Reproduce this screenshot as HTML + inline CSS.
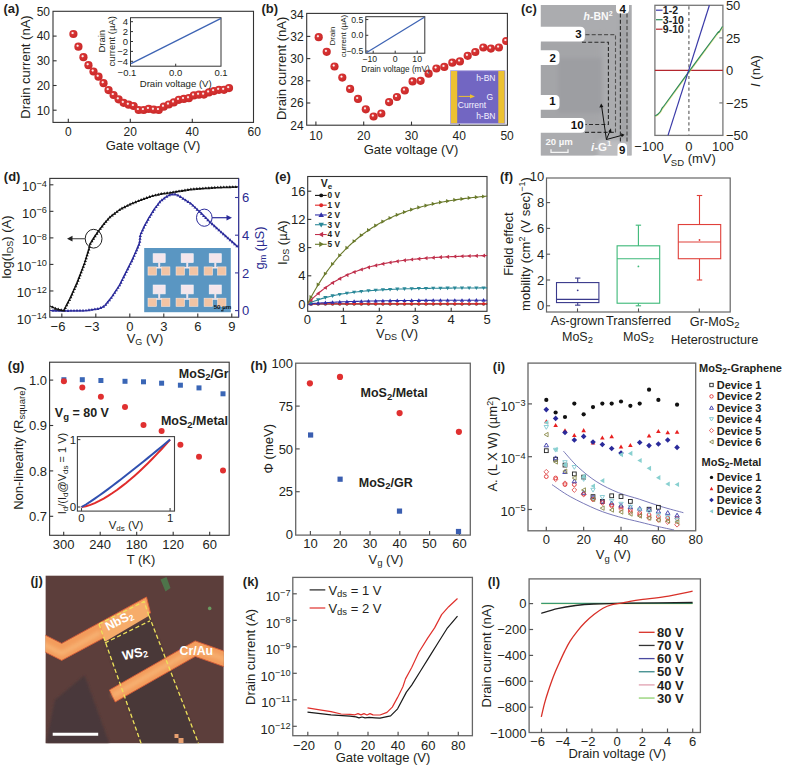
<!DOCTYPE html>
<html><head><meta charset="utf-8"><style>
html,body{margin:0;padding:0;background:#fff;}
svg{display:block;font-family:"Liberation Sans",sans-serif;}
</style></head><body>
<svg width="785" height="767" viewBox="0 0 785 767">
<defs>
<radialGradient id="dg" cx="0.4" cy="0.38" r="0.62">
<stop offset="0" stop-color="#ffffff"/><stop offset="0.14" stop-color="#f4d4d4"/><stop offset="0.3" stop-color="#d83434"/><stop offset="1" stop-color="#c82828"/>
</radialGradient>
<g id="dot"><circle cx="0" cy="0" r="4.1" fill="url(#dg)"/></g>
</defs>
<rect width="785" height="767" fill="#fff"/>
<text x="3.5" y="13" font-size="13" text-anchor="start" fill="#231f20" font-weight="bold">(a)</text>
<rect x="53" y="11.3" width="200.5" height="111.1" fill="none" stroke="#333" stroke-width="1.1"/>
<line x1="53" y1="110.2" x2="56.6" y2="110.2" stroke="#333" stroke-width="1.1"/>
<line x1="53" y1="85.5" x2="56.6" y2="85.5" stroke="#333" stroke-width="1.1"/>
<line x1="53" y1="60.8" x2="56.6" y2="60.8" stroke="#333" stroke-width="1.1"/>
<line x1="53" y1="36.1" x2="56.6" y2="36.1" stroke="#333" stroke-width="1.1"/>
<line x1="68.3" y1="122.4" x2="68.3" y2="118.8" stroke="#333" stroke-width="1.1"/>
<line x1="130.3" y1="122.4" x2="130.3" y2="118.8" stroke="#333" stroke-width="1.1"/>
<line x1="192.3" y1="122.4" x2="192.3" y2="118.8" stroke="#333" stroke-width="1.1"/>
<text x="50" y="114.5" font-size="12" text-anchor="end" fill="#231f20">10</text>
<text x="50" y="89.8" font-size="12" text-anchor="end" fill="#231f20">20</text>
<text x="50" y="65.1" font-size="12" text-anchor="end" fill="#231f20">30</text>
<text x="50" y="40.4" font-size="12" text-anchor="end" fill="#231f20">40</text>
<text x="50" y="15.7" font-size="12" text-anchor="end" fill="#231f20">50</text>
<text x="68.3" y="135.8" font-size="12" text-anchor="middle" fill="#231f20">0</text>
<text x="130.3" y="135.8" font-size="12" text-anchor="middle" fill="#231f20">20</text>
<text x="192.3" y="135.8" font-size="12" text-anchor="middle" fill="#231f20">40</text>
<text x="254.3" y="135.8" font-size="12" text-anchor="middle" fill="#231f20">60</text>
<text x="153" y="149.5" font-size="13" text-anchor="middle" fill="#231f20">Gate voltage (V)</text>
<text x="30" y="67" font-size="13" text-anchor="middle" fill="#231f20" transform="rotate(-90 30 67)">Drain current (nA)</text>
<use href="#dot" x="73.4" y="34"/>
<use href="#dot" x="78.42" y="46.7"/>
<use href="#dot" x="83.44" y="57.2"/>
<use href="#dot" x="88.46" y="65.2"/>
<use href="#dot" x="93.48" y="71.5"/>
<use href="#dot" x="98.5" y="76.7"/>
<use href="#dot" x="103.52" y="83.2"/>
<use href="#dot" x="108.54" y="90.1"/>
<use href="#dot" x="113.56" y="95"/>
<use href="#dot" x="118.58" y="99.3"/>
<use href="#dot" x="123.6" y="102.8"/>
<use href="#dot" x="128.62" y="104.7"/>
<use href="#dot" x="133.64" y="106"/>
<use href="#dot" x="138.66" y="110"/>
<use href="#dot" x="143.68" y="110"/>
<use href="#dot" x="148.7" y="108.9"/>
<use href="#dot" x="153.72" y="109.7"/>
<use href="#dot" x="158.74" y="110"/>
<use href="#dot" x="163.76" y="106.7"/>
<use href="#dot" x="168.78" y="104.5"/>
<use href="#dot" x="173.8" y="102.4"/>
<use href="#dot" x="178.82" y="99.8"/>
<use href="#dot" x="183.84" y="98.9"/>
<use href="#dot" x="188.86" y="98.2"/>
<use href="#dot" x="193.88" y="95.4"/>
<use href="#dot" x="198.9" y="94.7"/>
<use href="#dot" x="203.92" y="94.6"/>
<use href="#dot" x="208.94" y="92.4"/>
<use href="#dot" x="213.96" y="91.1"/>
<use href="#dot" x="218.98" y="89.8"/>
<use href="#dot" x="224" y="89.8"/>
<use href="#dot" x="229.02" y="88.1"/>
<rect x="130.5" y="17.7" width="90.5" height="48.5" fill="none" stroke="#333" stroke-width="1"/>
<line x1="130.5" y1="61.3" x2="133" y2="61.3" stroke="#333" stroke-width="1"/>
<line x1="130.5" y1="51.4" x2="133" y2="51.4" stroke="#333" stroke-width="1"/>
<line x1="130.5" y1="41.5" x2="133" y2="41.5" stroke="#333" stroke-width="1"/>
<line x1="130.5" y1="31.6" x2="133" y2="31.6" stroke="#333" stroke-width="1"/>
<line x1="130.5" y1="21.7" x2="133" y2="21.7" stroke="#333" stroke-width="1"/>
<line x1="175.7" y1="66.2" x2="175.7" y2="63.7" stroke="#333" stroke-width="1"/>
<text x="128" y="64.7" font-size="9.5" text-anchor="end" fill="#231f20">−4</text>
<text x="128" y="54.8" font-size="9.5" text-anchor="end" fill="#231f20">−2</text>
<text x="128" y="44.9" font-size="9.5" text-anchor="end" fill="#231f20">0</text>
<text x="128" y="35" font-size="9.5" text-anchor="end" fill="#231f20">2</text>
<text x="128" y="25.1" font-size="9.5" text-anchor="end" fill="#231f20">4</text>
<text x="127" y="76" font-size="9.5" text-anchor="middle" fill="#231f20">−0.1</text>
<text x="175.7" y="76" font-size="9.5" text-anchor="middle" fill="#231f20">0.0</text>
<text x="221" y="76" font-size="9.5" text-anchor="middle" fill="#231f20">0.1</text>
<text x="175.7" y="87.3" font-size="9.6" text-anchor="middle" fill="#231f20">Drain voltage (V)</text>
<text x="104.6" y="41.2" font-size="9.5" text-anchor="middle" fill="#231f20" transform="rotate(-90 104.6 41.2)">Drain</text>
<text x="115.3" y="41.2" font-size="9.5" text-anchor="middle" fill="#231f20" transform="rotate(-90 115.3 41.2)">current (µA)</text>
<line x1="131" y1="63.7" x2="221" y2="18.4" stroke="#3e64b4" stroke-width="1.3"/>
<text x="261.5" y="13.3" font-size="13" text-anchor="start" fill="#231f20" font-weight="bold">(b)</text>
<rect x="306.7" y="13.4" width="200.7" height="111.8" fill="none" stroke="#333" stroke-width="1.1"/>
<line x1="306.7" y1="103" x2="310.3" y2="103" stroke="#333" stroke-width="1.1"/>
<line x1="306.7" y1="80.8" x2="310.3" y2="80.8" stroke="#333" stroke-width="1.1"/>
<line x1="306.7" y1="58.6" x2="310.3" y2="58.6" stroke="#333" stroke-width="1.1"/>
<line x1="306.7" y1="36.4" x2="310.3" y2="36.4" stroke="#333" stroke-width="1.1"/>
<line x1="315.9" y1="125.2" x2="315.9" y2="121.6" stroke="#333" stroke-width="1.1"/>
<line x1="363.7" y1="125.2" x2="363.7" y2="121.6" stroke="#333" stroke-width="1.1"/>
<line x1="411.5" y1="125.2" x2="411.5" y2="121.6" stroke="#333" stroke-width="1.1"/>
<line x1="459.3" y1="125.2" x2="459.3" y2="121.6" stroke="#333" stroke-width="1.1"/>
<text x="303.7" y="129.5" font-size="12" text-anchor="end" fill="#231f20">24</text>
<text x="303.7" y="107.3" font-size="12" text-anchor="end" fill="#231f20">26</text>
<text x="303.7" y="85.1" font-size="12" text-anchor="end" fill="#231f20">28</text>
<text x="303.7" y="62.9" font-size="12" text-anchor="end" fill="#231f20">30</text>
<text x="303.7" y="40.7" font-size="12" text-anchor="end" fill="#231f20">32</text>
<text x="303.7" y="18.5" font-size="12" text-anchor="end" fill="#231f20">34</text>
<text x="315.9" y="139.5" font-size="12" text-anchor="middle" fill="#231f20">10</text>
<text x="363.7" y="139.5" font-size="12" text-anchor="middle" fill="#231f20">20</text>
<text x="411.5" y="139.5" font-size="12" text-anchor="middle" fill="#231f20">30</text>
<text x="459.3" y="139.5" font-size="12" text-anchor="middle" fill="#231f20">40</text>
<text x="507.1" y="139.5" font-size="12" text-anchor="middle" fill="#231f20">50</text>
<text x="411" y="153.6" font-size="13" text-anchor="middle" fill="#231f20">Gate voltage (V)</text>
<text x="285.6" y="68.4" font-size="13" text-anchor="middle" fill="#231f20" transform="rotate(-90 285.6 68.4)">Drain current (nA)</text>
<rect x="365.8" y="16.7" width="59" height="36.5" fill="#fff" stroke="none" stroke-width="1"/>
<defs><clipPath id="bclip"><rect x="306.7" y="13.4" width="200.7" height="111.8"/></clipPath></defs><g clip-path="url(#bclip)">
<use href="#dot" x="318.7" y="37.2"/>
<use href="#dot" x="326.7" y="51.8"/>
<use href="#dot" x="334.5" y="66.5"/>
<use href="#dot" x="342.3" y="77.6"/>
<use href="#dot" x="350.1" y="88.9"/>
<use href="#dot" x="358" y="98.9"/>
<use href="#dot" x="365.8" y="109.3"/>
<use href="#dot" x="373.6" y="116.5"/>
<use href="#dot" x="381.3" y="113.5"/>
<use href="#dot" x="389.1" y="102.1"/>
<use href="#dot" x="396.9" y="97"/>
<use href="#dot" x="404.8" y="90.5"/>
<use href="#dot" x="412.6" y="81.4"/>
<use href="#dot" x="420.6" y="80.8"/>
<use href="#dot" x="428.6" y="73.7"/>
<use href="#dot" x="436.4" y="68.5"/>
<use href="#dot" x="444.3" y="66.9"/>
<use href="#dot" x="452.3" y="62.7"/>
<use href="#dot" x="459.9" y="61.4"/>
<use href="#dot" x="467.7" y="55.8"/>
<use href="#dot" x="475.3" y="52"/>
<use href="#dot" x="483.3" y="47.5"/>
<use href="#dot" x="490.9" y="48.6"/>
<use href="#dot" x="498.9" y="47.5"/>
<use href="#dot" x="506.2" y="41"/>
</g>
<rect x="365.8" y="16.7" width="59" height="36.5" fill="#fff" stroke="#333" stroke-width="1"/>
<line x1="365.8" y1="51.05" x2="368.3" y2="51.05" stroke="#333" stroke-width="1"/>
<line x1="365.8" y1="35.3" x2="368.3" y2="35.3" stroke="#333" stroke-width="1"/>
<line x1="365.8" y1="19.55" x2="368.3" y2="19.55" stroke="#333" stroke-width="1"/>
<line x1="373.2" y1="53.2" x2="373.2" y2="50.7" stroke="#333" stroke-width="1"/>
<line x1="395.2" y1="53.2" x2="395.2" y2="50.7" stroke="#333" stroke-width="1"/>
<line x1="417.2" y1="53.2" x2="417.2" y2="50.7" stroke="#333" stroke-width="1"/>
<text x="363.3" y="54.15" font-size="8.7" text-anchor="end" fill="#231f20">−0.5</text>
<text x="363.3" y="38.4" font-size="8.7" text-anchor="end" fill="#231f20">0.0</text>
<text x="363.3" y="22.65" font-size="8.7" text-anchor="end" fill="#231f20">0.5</text>
<text x="369.7" y="62" font-size="8.7" text-anchor="middle" fill="#231f20">−10</text>
<text x="395.2" y="62" font-size="8.7" text-anchor="middle" fill="#231f20">0</text>
<text x="417.2" y="62" font-size="8.7" text-anchor="middle" fill="#231f20">10</text>
<text x="395.5" y="71.6" font-size="8.2" text-anchor="middle" fill="#231f20">Drain voltage (mV)</text>
<text x="334.8" y="36" font-size="8" text-anchor="middle" fill="#231f20" transform="rotate(-90 334.8 36)">Drain</text>
<text x="345.6" y="36" font-size="8" text-anchor="middle" fill="#231f20" transform="rotate(-90 345.6 36)">current (µA)</text>
<line x1="366.3" y1="52.7" x2="424.3" y2="17.2" stroke="#3e64b4" stroke-width="1.3"/>
<rect x="450.6" y="70.7" width="54.4" height="52.9" fill="#7266c2" stroke="#b0a8e0" stroke-width="0.9"/>
<rect x="451" y="71" width="6.2" height="52.2" fill="#ecc132" stroke="none" stroke-width="1"/>
<rect x="498.3" y="71" width="6.2" height="52.2" fill="#ecc132" stroke="none" stroke-width="1"/>
<text x="495.5" y="81.3" font-size="8.5" text-anchor="end" fill="#f4f2ff">h-BN</text>
<text x="493" y="99.8" font-size="8.5" text-anchor="end" fill="#f4f2ff">G</text>
<text x="457.8" y="107.6" font-size="8.5" text-anchor="start" fill="#f4f2ff">Current</text>
<text x="495.5" y="118.6" font-size="8.5" text-anchor="end" fill="#f4f2ff">h-BN</text>
<line x1="458.7" y1="96.4" x2="471" y2="96.4" stroke="#ecc132" stroke-width="1"/>
<path d="M470 94.2 L475 96.4 L470 98.6 Z" fill="#ecc132"/>
<text x="521" y="13.3" font-size="13" text-anchor="start" fill="#231f20" font-weight="bold">(c)</text>
<defs><filter id="cblur" x="-5%" y="-5%" width="110%" height="110%"><feGaussianBlur stdDeviation="2.2"/></filter><clipPath id="cclip"><rect x="540.8" y="5.1" width="90.8" height="150.4"/></clipPath></defs>
<g clip-path="url(#cclip)">
<rect x="540.8" y="5.1" width="90.8" height="150.4" fill="#a7a8ab" stroke="none" stroke-width="1"/>
<g filter="url(#cblur)">
<rect x="535.8" y="0.1" width="80" height="32" fill="#abacaf" stroke="none" stroke-width="1"/>
<rect x="535.8" y="42" width="64" height="80" fill="#a4a5a8" stroke="none" stroke-width="1"/>
<rect x="558" y="58" width="44" height="55" fill="#9d9ea2" stroke="none" stroke-width="1"/>
<rect x="603" y="0.1" width="40" height="165" fill="#abacaf" stroke="none" stroke-width="1"/>
<rect x="620" y="13" width="7" height="130" fill="#a3a4a7" stroke="none" stroke-width="1"/>
<rect x="535.8" y="128" width="60" height="35" fill="#abacaf" stroke="none" stroke-width="1"/>
<rect x="598" y="140" width="32" height="18" fill="#bdbec1" stroke="none" stroke-width="1"/>
</g>
</g>
<path d="M539.8 26.8 H580.4 Q584.9 26.8 584.9 31.3 V37.1 Q584.9 41.6 580.4 41.6 H539.8 Z" fill="#fff"/>
<path d="M539.8 50.2 H555 Q559.5 50.2 559.5 54.7 V60.5 Q559.5 65 555 65 H539.8 Z" fill="#fff"/>
<path d="M539.8 95 H555 Q559.5 95 559.5 99.5 V105.3 Q559.5 109.8 555 109.8 H539.8 Z" fill="#fff"/>
<path d="M539.8 118 H580.7 Q585.2 118 585.2 122.5 V128.3 Q585.2 132.8 580.7 132.8 H539.8 Z" fill="#fff"/>
<path d="M616 0 V9.4 Q616 13.6 620 13.6 H625 Q629 13.6 629 9.4 V0 Z" fill="#fff"/>
<path d="M617.5 160 V147 Q617.5 143 621.5 143 H623 Q627 143 627 147 V160 Z" fill="#fff"/>
<path d="M585.5 34.6 L615.5 34.6 L615.5 132.4" stroke="#555" stroke-width="1.1" fill="none" stroke-dasharray="4 2.2"/>
<path d="M582 42.3 L608.4 42.3 L608.4 124.5 L585.5 124.5" stroke="#2a2a2a" stroke-width="1.1" fill="none" stroke-dasharray="4 2.2"/>
<path d="M585 132.4 L615.5 132.4" stroke="#333" stroke-width="1.1" fill="none" stroke-dasharray="4 2.2"/>
<line x1="620.4" y1="13.6" x2="620.4" y2="143" stroke="#2a2a2a" stroke-width="1.1" stroke-dasharray="4 2.2"/>
<line x1="627" y1="13.6" x2="627" y2="143" stroke="#444" stroke-width="1.1" stroke-dasharray="4 2.2"/>
<line x1="606.4" y1="139.5" x2="601.6" y2="106" stroke="#111" stroke-width="1"/>
<path d="M599.3 107.5 L601.2 103.5 L603.3 107 Z" fill="#111"/>
<line x1="606.4" y1="139.5" x2="622" y2="135.3" stroke="#111" stroke-width="1"/>
<path d="M621 133.3 L624.5 134.8 L621.7 137.2 Z" fill="#111"/>
<line x1="606.4" y1="139.5" x2="610.2" y2="130.5" stroke="#111" stroke-width="1"/>
<path d="M608.3 131.4 L611 128.2 L611.5 132.5 Z" fill="#111"/>
<text x="578.5" y="38" font-size="11.5" text-anchor="middle" fill="#111" font-weight="bold">3</text>
<text x="552.6" y="62" font-size="11.5" text-anchor="middle" fill="#111" font-weight="bold">2</text>
<text x="552.4" y="105.2" font-size="11.5" text-anchor="middle" fill="#111" font-weight="bold">1</text>
<text x="577.2" y="128.6" font-size="11.5" text-anchor="middle" fill="#111" font-weight="bold">10</text>
<text x="622.6" y="13" font-size="11.5" text-anchor="middle" fill="#111" font-weight="bold">4</text>
<text x="622.3" y="154.2" font-size="11.5" text-anchor="middle" fill="#111" font-weight="bold">9</text>
<text x="583.6" y="20.4" font-size="10.5" fill="#fafafa" font-weight="bold"><tspan font-style="italic">h</tspan>-BN<tspan font-size="7" dy="-4.5">2</tspan></text>
<text x="591" y="150.6" font-size="11.5" fill="#fafafa" font-weight="bold"><tspan font-style="italic">i</tspan>-G<tspan font-size="8" dy="-5">1</tspan></text>
<text x="559.2" y="144.7" font-size="9.6" text-anchor="middle" fill="#f8f8f8" font-weight="bold">20 µm</text>
<path d="M551 149.3 L551 152.4 L568 152.4 L568 149.3" stroke="#f5f5f5" stroke-width="1.3" fill="none"/>
<rect x="654.9" y="5.3" width="68" height="130.1" fill="none" stroke="#777" stroke-width="1.3"/>
<line x1="722.9" y1="102.9" x2="719.3" y2="102.9" stroke="#777" stroke-width="1.2"/>
<line x1="722.9" y1="37.9" x2="719.3" y2="37.9" stroke="#777" stroke-width="1.2"/>
<line x1="688.9" y1="6.3" x2="688.9" y2="134.4" stroke="#666" stroke-width="1.2" stroke-dasharray="3.2 2.6"/>
<line x1="654.9" y1="70.4" x2="722.9" y2="70.4" stroke="#b4262e" stroke-width="1.2"/>
<path d="M655.5 116.7 C655.92 116.45 657.17 115.87 658 115.2 C658.83 114.53 659.67 113.87 660.5 112.7 C661.33 111.53 662.17 109.45 663 108.2 C663.83 106.95 660.92 111.42 665.5 105.2 C670.08 98.98 682 82.48 690.5 70.9 C699 59.32 711.67 42.07 716.5 35.7 C721.33 29.33 718.42 34.12 719.5 32.7 C720.58 31.28 722.42 28.12 723 27.2" stroke="#e8e070" stroke-width="0.8" fill="none" stroke-linejoin="round"/>
<path d="M655 116 C655.42 115.75 656.67 115.17 657.5 114.5 C658.33 113.83 659.17 113.17 660 112 C660.83 110.83 661.67 108.75 662.5 107.5 C663.33 106.25 660.42 110.72 665 104.5 C669.58 98.28 681.5 81.78 690 70.2 C698.5 58.62 711.17 41.37 716 35 C720.83 28.63 717.92 33.42 719 32 C720.08 30.58 721.92 27.42 722.5 26.5" stroke="#2e8a58" stroke-width="1.2" fill="none" stroke-linejoin="round"/>
<line x1="668" y1="135.4" x2="709.4" y2="5.3" stroke="#3a3aa8" stroke-width="1.2"/>
<text x="725.9" y="10" font-size="13" text-anchor="start" fill="#231f20">50</text>
<text x="725.9" y="42.5" font-size="13" text-anchor="start" fill="#231f20">25</text>
<text x="725.9" y="75" font-size="13" text-anchor="start" fill="#231f20">0</text>
<text x="725.9" y="107.5" font-size="13" text-anchor="start" fill="#231f20">−25</text>
<text x="725.9" y="140" font-size="13" text-anchor="start" fill="#231f20">−50</text>
<text x="649" y="150.5" font-size="13" text-anchor="middle" fill="#231f20">−100</text>
<text x="688.9" y="150.5" font-size="13" text-anchor="middle" fill="#231f20">0</text>
<text x="722.8" y="150.5" font-size="13" text-anchor="middle" fill="#231f20">100</text>
<text x="689" y="163.4" font-size="13" text-anchor="middle" fill="#231f20"><tspan font-style="italic">V</tspan><tspan font-size="9.5" dy="2.2">SD</tspan><tspan dy="-2.2"> (mV)</tspan></text>
<text x="759.6" y="71" font-size="13" text-anchor="middle" fill="#231f20" transform="rotate(-90 759.6 71)"><tspan font-style="italic">I</tspan> (nA)</text>
<line x1="656" y1="10.2" x2="662.5" y2="10.2" stroke="#3a3aa8" stroke-width="1.2"/>
<text x="662.8" y="14.2" font-size="10.5" text-anchor="start" fill="#222" font-weight="bold">1-2</text>
<line x1="656" y1="19.7" x2="662.5" y2="19.7" stroke="#2e8a58" stroke-width="1.2"/>
<text x="662.8" y="23.7" font-size="10.5" text-anchor="start" fill="#222" font-weight="bold">3-10</text>
<line x1="656" y1="29.2" x2="662.5" y2="29.2" stroke="#b4262e" stroke-width="1.2"/>
<text x="662.8" y="33.2" font-size="10.5" text-anchor="start" fill="#222" font-weight="bold">9-10</text>
<text x="3.8" y="181" font-size="13" text-anchor="start" fill="#231f20" font-weight="bold">(d)</text>
<rect x="144.2" y="248" width="86.6" height="64.2" fill="#5a96c2" stroke="none" stroke-width="1"/>
<rect x="153.1" y="253.7" width="12.1" height="8.9" fill="#f4e6ec" stroke="#fbf6f8" stroke-width="0.6"/>
<rect x="158.2" y="262.6" width="2" height="4.6" fill="#f0e4ea" stroke="none" stroke-width="1"/>
<rect x="156" y="266.9" width="6" height="1.6" fill="#f4e8ea" stroke="none" stroke-width="1"/>
<rect x="148" y="266.9" width="8.5" height="8.2" fill="#f2c4a4" stroke="#f8e4da" stroke-width="0.6"/>
<rect x="161.4" y="266.9" width="8.5" height="8.2" fill="#f2c4a4" stroke="#f8e4da" stroke-width="0.6"/>
<rect x="153.1" y="285" width="12.1" height="8.9" fill="#f4e6ec" stroke="#fbf6f8" stroke-width="0.6"/>
<rect x="158.2" y="293.9" width="2" height="4.6" fill="#f0e4ea" stroke="none" stroke-width="1"/>
<rect x="156" y="298.2" width="6" height="1.6" fill="#f4e8ea" stroke="none" stroke-width="1"/>
<rect x="148" y="298.2" width="8.5" height="8.2" fill="#f2c4a4" stroke="#f8e4da" stroke-width="0.6"/>
<rect x="161.4" y="298.2" width="8.5" height="8.2" fill="#f2c4a4" stroke="#f8e4da" stroke-width="0.6"/>
<rect x="181.15" y="253.7" width="12.1" height="8.9" fill="#f4e6ec" stroke="#fbf6f8" stroke-width="0.6"/>
<rect x="186.25" y="262.6" width="2" height="4.6" fill="#f0e4ea" stroke="none" stroke-width="1"/>
<rect x="184.05" y="266.9" width="6" height="1.6" fill="#f4e8ea" stroke="none" stroke-width="1"/>
<rect x="176.05" y="266.9" width="8.5" height="8.2" fill="#f2c4a4" stroke="#f8e4da" stroke-width="0.6"/>
<rect x="189.45" y="266.9" width="8.5" height="8.2" fill="#f2c4a4" stroke="#f8e4da" stroke-width="0.6"/>
<rect x="181.15" y="285" width="12.1" height="8.9" fill="#f4e6ec" stroke="#fbf6f8" stroke-width="0.6"/>
<rect x="186.25" y="293.9" width="2" height="4.6" fill="#f0e4ea" stroke="none" stroke-width="1"/>
<rect x="184.05" y="298.2" width="6" height="1.6" fill="#f4e8ea" stroke="none" stroke-width="1"/>
<rect x="176.05" y="298.2" width="8.5" height="8.2" fill="#f2c4a4" stroke="#f8e4da" stroke-width="0.6"/>
<rect x="189.45" y="298.2" width="8.5" height="8.2" fill="#f2c4a4" stroke="#f8e4da" stroke-width="0.6"/>
<rect x="209.2" y="253.7" width="12.1" height="8.9" fill="#f4e6ec" stroke="#fbf6f8" stroke-width="0.6"/>
<rect x="214.3" y="262.6" width="2" height="4.6" fill="#f0e4ea" stroke="none" stroke-width="1"/>
<rect x="212.1" y="266.9" width="6" height="1.6" fill="#f4e8ea" stroke="none" stroke-width="1"/>
<rect x="204.1" y="266.9" width="8.5" height="8.2" fill="#f2c4a4" stroke="#f8e4da" stroke-width="0.6"/>
<rect x="217.5" y="266.9" width="8.5" height="8.2" fill="#f2c4a4" stroke="#f8e4da" stroke-width="0.6"/>
<rect x="209.2" y="285" width="12.1" height="8.9" fill="#f4e6ec" stroke="#fbf6f8" stroke-width="0.6"/>
<rect x="214.3" y="293.9" width="2" height="4.6" fill="#f0e4ea" stroke="none" stroke-width="1"/>
<rect x="212.1" y="298.2" width="6" height="1.6" fill="#f4e8ea" stroke="none" stroke-width="1"/>
<rect x="204.1" y="298.2" width="8.5" height="8.2" fill="#f2c4a4" stroke="#f8e4da" stroke-width="0.6"/>
<rect x="217.5" y="298.2" width="8.5" height="8.2" fill="#f2c4a4" stroke="#f8e4da" stroke-width="0.6"/>
<text x="222.5" y="308.5" font-size="6.2" text-anchor="middle" fill="#111" font-weight="bold">50 µm</text>
<line x1="221" y1="310.8" x2="223.5" y2="310.8" stroke="#111" stroke-width="1"/>
<rect x="49.8" y="178.4" width="188.8" height="138.8" fill="none" stroke="#333" stroke-width="1.1"/>
<line x1="238.6" y1="178.4" x2="238.6" y2="317.2" stroke="#3a3a9a" stroke-width="1.2"/>
<line x1="49.8" y1="184.8" x2="53.4" y2="184.8" stroke="#333" stroke-width="1.1"/>
<line x1="49.8" y1="211.34" x2="53.4" y2="211.34" stroke="#333" stroke-width="1.1"/>
<line x1="49.8" y1="237.88" x2="53.4" y2="237.88" stroke="#333" stroke-width="1.1"/>
<line x1="49.8" y1="264.42" x2="53.4" y2="264.42" stroke="#333" stroke-width="1.1"/>
<line x1="49.8" y1="290.96" x2="53.4" y2="290.96" stroke="#333" stroke-width="1.1"/>
<line x1="238.6" y1="310.6" x2="235" y2="310.6" stroke="#3a3a9a" stroke-width="1.1"/>
<line x1="238.6" y1="272.9" x2="235" y2="272.9" stroke="#3a3a9a" stroke-width="1.1"/>
<line x1="238.6" y1="235.2" x2="235" y2="235.2" stroke="#3a3a9a" stroke-width="1.1"/>
<line x1="238.6" y1="197.5" x2="235" y2="197.5" stroke="#3a3a9a" stroke-width="1.1"/>
<line x1="61.82" y1="317.2" x2="61.82" y2="313.6" stroke="#333" stroke-width="1.1"/>
<line x1="95.81" y1="317.2" x2="95.81" y2="313.6" stroke="#333" stroke-width="1.1"/>
<line x1="129.8" y1="317.2" x2="129.8" y2="313.6" stroke="#333" stroke-width="1.1"/>
<line x1="163.79" y1="317.2" x2="163.79" y2="313.6" stroke="#333" stroke-width="1.1"/>
<line x1="197.78" y1="317.2" x2="197.78" y2="313.6" stroke="#333" stroke-width="1.1"/>
<line x1="231.77" y1="317.2" x2="231.77" y2="313.6" stroke="#333" stroke-width="1.1"/>
<text x="46.9" y="191.1" font-size="13" text-anchor="end" fill="#231f20">10<tspan font-size="9.2" dy="-4.4">−4</tspan></text>
<text x="46.9" y="217.64" font-size="13" text-anchor="end" fill="#231f20">10<tspan font-size="9.2" dy="-4.4">−6</tspan></text>
<text x="46.9" y="244.18" font-size="13" text-anchor="end" fill="#231f20">10<tspan font-size="9.2" dy="-4.4">−8</tspan></text>
<text x="46.9" y="270.72" font-size="13" text-anchor="end" fill="#231f20">10<tspan font-size="9.2" dy="-4.4">−10</tspan></text>
<text x="46.9" y="297.26" font-size="13" text-anchor="end" fill="#231f20">10<tspan font-size="9.2" dy="-4.4">−12</tspan></text>
<text x="46.9" y="323.8" font-size="13" text-anchor="end" fill="#231f20">10<tspan font-size="9.2" dy="-4.4">−14</tspan></text>
<text x="58.02" y="330.6" font-size="13" text-anchor="middle" fill="#231f20">−6</text>
<text x="92.01" y="330.6" font-size="13" text-anchor="middle" fill="#231f20">−3</text>
<text x="129.8" y="330.6" font-size="13" text-anchor="middle" fill="#231f20">0</text>
<text x="163.79" y="330.6" font-size="13" text-anchor="middle" fill="#231f20">3</text>
<text x="197.78" y="330.6" font-size="13" text-anchor="middle" fill="#231f20">6</text>
<text x="231.77" y="330.6" font-size="13" text-anchor="middle" fill="#231f20">9</text>
<text x="242.1" y="315.2" font-size="13" text-anchor="start" fill="#2a2a90">0</text>
<text x="242.1" y="277.5" font-size="13" text-anchor="start" fill="#2a2a90">2</text>
<text x="242.1" y="239.8" font-size="13" text-anchor="start" fill="#2a2a90">4</text>
<text x="242.1" y="202.1" font-size="13" text-anchor="start" fill="#2a2a90">6</text>
<text x="145" y="342.7" font-size="13" text-anchor="middle" fill="#231f20">V<tspan font-size="9" dy="2">G</tspan><tspan dy="-2"> (V)</tspan></text>
<text x="11.3" y="247" font-size="13" text-anchor="middle" fill="#231f20" transform="rotate(-90 11.3 247)">log(I<tspan font-size="9" dy="2">DS</tspan><tspan dy="-2">) (A)</tspan></text>
<text x="263.5" y="248" font-size="13" text-anchor="middle" fill="#2a2a90" transform="rotate(-90 263.5 248)">g<tspan font-size="9" dy="2">m</tspan><tspan dy="-2"> (µS)</tspan></text>
<path d="M50 310.5 L68.2 310.8 L86.5 310.5 L99.3 308.6 L104.7 305.9 L112 296.8 L119.3 285.8 L126.6 271.2 L132.1 260.3 L135.8 252.1 L139.6 243 L140.4 235 L144.5 226 L149.1 217.7 L154.5 209 L160.3 201.4 L165.5 197.3 L170 194.8 L172 194.3 L174.4 194.1 L178.2 195.4 L191 203.7 L201.1 213.2 L210 222.1 L222.8 233.6 L238 247" stroke="#2a2a9a" stroke-width="1.1" fill="none" stroke-linejoin="round"/>
<path d="M51.4 311.65 L53 308.75 L54.6 311.65 Z M54.4 311.7 L56 308.8 L57.6 311.7 Z M57.4 311.75 L59 308.85 L60.6 311.75 Z M60.4 311.8 L62 308.9 L63.6 311.8 Z M63.4 311.85 L65 308.95 L66.6 311.85 Z M66.4 311.9 L68 309 L69.6 311.9 Z M69.4 311.85 L71 308.95 L72.6 311.85 Z M72.4 311.8 L74 308.9 L75.6 311.8 Z M75.4 311.76 L77 308.86 L78.6 311.76 Z M78.4 311.71 L80 308.81 L81.6 311.71 Z M81.4 311.66 L83 308.76 L84.6 311.66 Z M84.4 311.61 L86 308.71 L87.6 311.61 Z M87.37 311.23 L88.97 308.33 L90.57 311.23 Z M90.34 310.79 L91.94 307.89 L93.54 310.79 Z M93.3 310.35 L94.9 307.45 L96.5 310.35 Z M96.27 309.91 L97.87 307.01 L99.47 309.91 Z M99.09 309 L100.69 306.1 L102.29 309 Z M101.77 307.66 L103.37 304.76 L104.97 307.66 Z M104.05 305.82 L105.65 302.92 L107.25 305.82 Z M105.93 303.48 L107.53 300.58 L109.13 303.48 Z M107.8 301.14 L109.4 298.24 L111 301.14 Z M109.68 298.8 L111.28 295.9 L112.88 298.8 Z M111.42 296.36 L113.02 293.46 L114.62 296.36 Z M113.08 293.86 L114.68 290.96 L116.28 293.86 Z M114.74 291.36 L116.34 288.46 L117.94 291.36 Z M116.4 288.86 L118 285.96 L119.6 288.86 Z M117.99 286.32 L119.59 283.42 L121.19 286.32 Z M119.33 283.64 L120.93 280.74 L122.53 283.64 Z M120.67 280.95 L122.27 278.05 L123.87 280.95 Z M122.02 278.27 L123.62 275.37 L125.22 278.27 Z M123.36 275.59 L124.96 272.69 L126.56 275.59 Z M124.7 272.9 L126.3 270 L127.9 272.9 Z M126.05 270.22 L127.65 267.32 L129.25 270.22 Z M127.4 267.54 L129 264.64 L130.6 267.54 Z M128.75 264.87 L130.35 261.97 L131.95 264.87 Z M130.1 262.19 L131.7 259.29 L133.3 262.19 Z M131.37 259.47 L132.97 256.57 L134.57 259.47 Z M132.6 256.74 L134.2 253.84 L135.8 256.74 Z M133.84 254 L135.44 251.1 L137.04 254 Z M135.02 251.24 L136.62 248.34 L138.22 251.24 Z M136.17 248.47 L137.77 245.57 L139.37 248.47 Z M137.33 245.71 L138.93 242.81 L140.53 245.71 Z M138.13 242.85 L139.73 239.95 L141.33 242.85 Z M138.42 239.86 L140.02 236.96 L141.62 239.86 Z M138.72 236.88 L140.32 233.98 L141.92 236.88 Z M139.72 234.08 L141.32 231.18 L142.92 234.08 Z M140.96 231.35 L142.56 228.45 L144.16 231.35 Z M142.21 228.62 L143.81 225.72 L145.41 228.62 Z M143.54 225.94 L145.14 223.04 L146.74 225.94 Z M145 223.31 L146.6 220.41 L148.2 223.31 Z M146.45 220.69 L148.05 217.79 L149.65 220.69 Z M147.94 218.09 L149.54 215.19 L151.14 218.09 Z M149.53 215.54 L151.13 212.64 L152.73 215.54 Z M151.11 212.99 L152.71 210.09 L154.31 212.99 Z M152.69 210.44 L154.29 207.54 L155.89 210.44 Z M154.48 208.03 L156.08 205.13 L157.68 208.03 Z M156.3 205.65 L157.9 202.75 L159.5 205.65 Z M158.12 203.26 L159.72 200.36 L161.32 203.26 Z M160.3 201.24 L161.9 198.34 L163.5 201.24 Z M162.66 199.38 L164.26 196.48 L165.86 199.38 Z M165.14 197.71 L166.74 194.81 L168.34 197.71 Z M167.76 196.25 L169.36 193.35 L170.96 196.25 Z M170.61 195.38 L172.21 192.48 L173.81 195.38 Z M173.56 195.46 L175.16 192.56 L176.76 195.46 Z M176.4 196.43 L178 193.53 L179.6 196.43 Z M178.94 198.01 L180.54 195.11 L182.14 198.01 Z M181.45 199.65 L183.05 196.75 L184.65 199.65 Z M183.97 201.28 L185.57 198.38 L187.17 201.28 Z M186.49 202.91 L188.09 200.01 L189.69 202.91 Z M189 204.54 L190.6 201.64 L192.2 204.54 Z M191.24 206.53 L192.84 203.63 L194.44 206.53 Z M193.43 208.59 L195.03 205.69 L196.63 208.59 Z M195.61 210.64 L197.21 207.74 L198.81 210.64 Z M197.8 212.7 L199.4 209.8 L201 212.7 Z M199.97 214.77 L201.57 211.87 L203.17 214.77 Z M202.09 216.89 L203.69 213.99 L205.29 216.89 Z M204.21 219.01 L205.81 216.11 L207.41 219.01 Z M206.33 221.13 L207.93 218.23 L209.53 221.13 Z M208.46 223.25 L210.06 220.35 L211.66 223.25 Z M210.69 225.26 L212.29 222.36 L213.89 225.26 Z M212.92 227.26 L214.52 224.36 L216.12 227.26 Z M215.15 229.27 L216.75 226.37 L218.35 229.27 Z M217.38 231.27 L218.98 228.37 L220.58 231.27 Z M219.62 233.28 L221.22 230.38 L222.82 233.28 Z M221.85 235.27 L223.45 232.37 L225.05 235.27 Z M224.1 237.26 L225.7 234.36 L227.3 237.26 Z M226.35 239.24 L227.95 236.34 L229.55 239.24 Z M228.6 241.23 L230.2 238.33 L231.8 241.23 Z M230.85 243.21 L232.45 240.31 L234.05 243.21 Z M233.1 245.19 L234.7 242.29 L236.3 245.19 Z M235.35 247.18 L236.95 244.28 L238.55 247.18 Z" fill="#2a2a9a"/>
<path d="M50 305.9 L55.5 308.6 L63.7 310.8 L70.1 298.6 L77.4 282.2 L84.7 263 L89.2 248.4 L90 244.2 L94.7 236.6 L100.2 228.9 L105.3 222.3 L110.4 216.7 L120.6 209.1 L130.8 204 L141 199.9 L151.2 196.3 L161.4 193.8 L170 192.7 L178.2 191.4 L191 189.3 L203.7 188.4 L216.4 187.5 L229.2 187.1 L238 186.9" stroke="#111" stroke-width="1.1" fill="none" stroke-linejoin="round"/>
<path d="M51.09 308.32 L52.69 305.42 L54.29 308.32 Z M53.79 309.64 L55.39 306.74 L56.99 309.64 Z M56.67 310.44 L58.27 307.54 L59.87 310.44 Z M59.57 311.22 L61.17 308.32 L62.77 311.22 Z M62.28 311.56 L63.88 308.66 L65.48 311.56 Z M63.67 308.9 L65.27 306 L66.87 308.9 Z M65.07 306.25 L66.67 303.35 L68.27 306.25 Z M66.46 303.59 L68.06 300.69 L69.66 303.59 Z M67.85 300.93 L69.45 298.03 L71.05 300.93 Z M69.15 298.23 L70.75 295.33 L72.35 298.23 Z M70.37 295.49 L71.97 292.59 L73.57 295.49 Z M71.59 292.75 L73.19 289.85 L74.79 292.75 Z M72.81 290.01 L74.41 287.11 L76.01 290.01 Z M74.03 287.27 L75.63 284.37 L77.23 287.27 Z M75.25 284.53 L76.85 281.63 L78.45 284.53 Z M76.39 281.75 L77.99 278.85 L79.59 281.75 Z M77.45 278.95 L79.05 276.05 L80.65 278.95 Z M78.52 276.14 L80.12 273.24 L81.72 276.14 Z M79.59 273.34 L81.19 270.44 L82.79 273.34 Z M80.65 270.54 L82.25 267.64 L83.85 270.54 Z M81.72 267.73 L83.32 264.83 L84.92 267.73 Z M82.79 264.93 L84.39 262.03 L85.99 264.93 Z M83.72 262.08 L85.32 259.18 L86.92 262.08 Z M84.61 259.21 L86.21 256.31 L87.81 259.21 Z M85.49 256.35 L87.09 253.45 L88.69 256.35 Z M86.37 253.48 L87.97 250.58 L89.57 253.48 Z M87.26 250.61 L88.86 247.71 L90.46 250.61 Z M87.94 247.7 L89.54 244.8 L91.14 247.7 Z M88.69 244.82 L90.29 241.92 L91.89 244.82 Z M90.27 242.27 L91.87 239.37 L93.47 242.27 Z M91.85 239.72 L93.45 236.82 L95.05 239.72 Z M93.46 237.19 L95.06 234.29 L96.66 237.19 Z M95.21 234.75 L96.81 231.85 L98.41 234.75 Z M96.95 232.31 L98.55 229.41 L100.15 232.31 Z M98.7 229.87 L100.3 226.97 L101.9 229.87 Z M100.53 227.5 L102.13 224.6 L103.73 227.5 Z M102.37 225.12 L103.97 222.22 L105.57 225.12 Z M104.25 222.79 L105.85 219.89 L107.45 222.79 Z M106.27 220.57 L107.87 217.67 L109.47 220.57 Z M108.29 218.36 L109.89 215.46 L111.49 218.36 Z M110.6 216.46 L112.2 213.56 L113.8 216.46 Z M113.01 214.66 L114.61 211.76 L116.21 214.66 Z M115.41 212.87 L117.01 209.97 L118.61 212.87 Z M117.82 211.08 L119.42 208.18 L121.02 211.08 Z M120.37 209.52 L121.97 206.62 L123.57 209.52 Z M123.05 208.18 L124.65 205.28 L126.25 208.18 Z M125.73 206.83 L127.33 203.93 L128.93 206.83 Z M128.42 205.49 L130.02 202.59 L131.62 205.49 Z M131.17 204.31 L132.77 201.41 L134.37 204.31 Z M133.95 203.19 L135.55 200.29 L137.15 203.19 Z M136.74 202.07 L138.34 199.17 L139.94 202.07 Z M139.52 200.96 L141.12 198.06 L142.72 200.96 Z M142.35 199.96 L143.95 197.06 L145.55 199.96 Z M145.18 198.96 L146.78 196.06 L148.38 198.96 Z M148.01 197.96 L149.61 195.06 L151.21 197.96 Z M150.88 197.09 L152.48 194.19 L154.08 197.09 Z M153.79 196.37 L155.39 193.47 L156.99 196.37 Z M156.7 195.66 L158.3 192.76 L159.9 195.66 Z M159.62 194.94 L161.22 192.04 L162.82 194.94 Z M162.59 194.54 L164.19 191.64 L165.79 194.54 Z M165.56 194.16 L167.16 191.26 L168.76 194.16 Z M168.54 193.78 L170.14 190.88 L171.74 193.78 Z M171.5 193.31 L173.1 190.41 L174.7 193.31 Z M174.47 192.84 L176.07 189.94 L177.67 192.84 Z M177.43 192.36 L179.03 189.46 L180.63 192.36 Z M180.39 191.88 L181.99 188.98 L183.59 191.88 Z M183.35 191.39 L184.95 188.49 L186.55 191.39 Z M186.31 190.91 L187.91 188.01 L189.51 190.91 Z M189.27 190.42 L190.87 187.52 L192.47 190.42 Z M192.26 190.2 L193.86 187.3 L195.46 190.2 Z M195.25 189.99 L196.85 187.09 L198.45 189.99 Z M198.25 189.77 L199.85 186.87 L201.45 189.77 Z M201.24 189.56 L202.84 186.66 L204.44 189.56 Z M204.23 189.35 L205.83 186.45 L207.43 189.35 Z M207.22 189.14 L208.82 186.24 L210.42 189.14 Z M210.22 188.92 L211.82 186.02 L213.42 188.92 Z M213.21 188.71 L214.81 185.81 L216.41 188.71 Z M216.2 188.56 L217.8 185.66 L219.4 188.56 Z M219.2 188.46 L220.8 185.56 L222.4 188.46 Z M222.2 188.37 L223.8 185.47 L225.4 188.37 Z M225.2 188.28 L226.8 185.38 L228.4 188.28 Z M228.2 188.19 L229.8 185.29 L231.4 188.19 Z M231.2 188.12 L232.8 185.22 L234.4 188.12 Z M234.2 188.05 L235.8 185.15 L237.4 188.05 Z" fill="#111"/>
<ellipse cx="93.6" cy="238.7" rx="8.4" ry="9.4" fill="none" stroke="#222" stroke-width="1"/>
<line x1="85.2" y1="238.7" x2="70" y2="238.7" stroke="#555" stroke-width="1.2"/>
<path d="M67 238.7 L72.5 235.8 L72.5 241.6 Z" fill="#222"/>
<ellipse cx="204.3" cy="217.7" rx="7.8" ry="8.6" fill="none" stroke="#2a2a9a" stroke-width="1"/>
<line x1="212.1" y1="217.7" x2="229" y2="217.7" stroke="#2a2a9a" stroke-width="1.2"/>
<path d="M232 217.7 L226.5 214.9 L226.5 220.5 Z" fill="#2a2a9a"/>
<text x="275" y="181" font-size="13" text-anchor="start" fill="#231f20" font-weight="bold">(e)</text>
<rect x="307.7" y="176.5" width="179.3" height="134.8" fill="none" stroke="#333" stroke-width="1.1"/>
<line x1="307.7" y1="275.8" x2="311.3" y2="275.8" stroke="#333" stroke-width="1.1"/>
<line x1="307.7" y1="247.6" x2="311.3" y2="247.6" stroke="#333" stroke-width="1.1"/>
<line x1="307.7" y1="219.4" x2="311.3" y2="219.4" stroke="#333" stroke-width="1.1"/>
<line x1="307.7" y1="191.2" x2="311.3" y2="191.2" stroke="#333" stroke-width="1.1"/>
<line x1="343.35" y1="311.3" x2="343.35" y2="307.7" stroke="#333" stroke-width="1.1"/>
<line x1="379.3" y1="311.3" x2="379.3" y2="307.7" stroke="#333" stroke-width="1.1"/>
<line x1="415.25" y1="311.3" x2="415.25" y2="307.7" stroke="#333" stroke-width="1.1"/>
<line x1="451.2" y1="311.3" x2="451.2" y2="307.7" stroke="#333" stroke-width="1.1"/>
<text x="305.4" y="308.6" font-size="13" text-anchor="end" fill="#231f20">0</text>
<text x="305.4" y="280.4" font-size="13" text-anchor="end" fill="#231f20">4</text>
<text x="305.4" y="252.2" font-size="13" text-anchor="end" fill="#231f20">8</text>
<text x="305.4" y="224" font-size="13" text-anchor="end" fill="#231f20">12</text>
<text x="305.4" y="195.8" font-size="13" text-anchor="end" fill="#231f20">16</text>
<text x="307.4" y="323.5" font-size="13" text-anchor="middle" fill="#231f20">0</text>
<text x="343.35" y="323.5" font-size="13" text-anchor="middle" fill="#231f20">1</text>
<text x="379.3" y="323.5" font-size="13" text-anchor="middle" fill="#231f20">2</text>
<text x="415.25" y="323.5" font-size="13" text-anchor="middle" fill="#231f20">3</text>
<text x="451.2" y="323.5" font-size="13" text-anchor="middle" fill="#231f20">4</text>
<text x="487.15" y="323.5" font-size="13" text-anchor="middle" fill="#231f20">5</text>
<text x="397" y="337.7" font-size="13" text-anchor="middle" fill="#231f20">V<tspan font-size="9" dy="2">DS</tspan><tspan dy="-2"> (V)</tspan></text>
<text x="287.3" y="242.6" font-size="13" text-anchor="middle" fill="#231f20" transform="rotate(-90 287.3 242.6)">I<tspan font-size="9" dy="2">DS</tspan><tspan dy="-2"> (µA)</tspan></text>
<path d="M307.4 304 L309.2 304 L311 304 L312.79 304 L314.59 304 L316.39 304 L318.19 304 L319.98 304 L321.78 304 L323.58 304 L325.38 304 L327.17 304 L328.97 304 L330.77 304 L332.56 304 L334.36 304 L336.16 304 L337.96 304 L339.75 304 L341.55 304 L343.35 304 L345.15 304 L346.94 304 L348.74 304 L350.54 304 L352.34 304 L354.13 304 L355.93 304 L357.73 304 L359.53 304 L361.32 304 L363.12 304 L364.92 304 L366.72 304 L368.51 304 L370.31 304 L372.11 304 L373.91 304 L375.7 304 L377.5 304 L379.3 304 L381.1 304 L382.89 304 L384.69 304 L386.49 304 L388.29 304 L390.08 304 L391.88 304 L393.68 304 L395.48 304 L397.27 304 L399.07 304 L400.87 304 L402.67 304 L404.46 304 L406.26 304 L408.06 304 L409.86 304 L411.65 304 L413.45 304 L415.25 304 L417.05 304 L418.84 304 L420.64 304 L422.44 304 L424.24 304 L426.03 304 L427.83 304 L429.63 304 L431.43 304 L433.23 304 L435.02 304 L436.82 304 L438.62 304 L440.41 304 L442.21 304 L444.01 304 L445.81 304 L447.61 304 L449.4 304 L451.2 304 L453 304 L454.79 304 L456.59 304 L458.39 304 L460.19 304 L461.99 304 L463.78 304 L465.58 304 L467.38 304 L469.17 304 L470.97 304 L472.77 304 L474.57 304 L476.37 304 L478.16 304 L479.96 304 L481.76 304 L483.56 304 L485.35 304 L487.15 304" stroke="#111" stroke-width="1.1" fill="none"/>
<circle cx="311" cy="304" r="1.5" fill="#111" stroke="none" stroke-width="1"/>
<circle cx="318.19" cy="304" r="1.5" fill="#111" stroke="none" stroke-width="1"/>
<circle cx="325.38" cy="304" r="1.5" fill="#111" stroke="none" stroke-width="1"/>
<circle cx="332.56" cy="304" r="1.5" fill="#111" stroke="none" stroke-width="1"/>
<circle cx="339.75" cy="304" r="1.5" fill="#111" stroke="none" stroke-width="1"/>
<circle cx="346.94" cy="304" r="1.5" fill="#111" stroke="none" stroke-width="1"/>
<circle cx="354.13" cy="304" r="1.5" fill="#111" stroke="none" stroke-width="1"/>
<circle cx="361.32" cy="304" r="1.5" fill="#111" stroke="none" stroke-width="1"/>
<circle cx="368.51" cy="304" r="1.5" fill="#111" stroke="none" stroke-width="1"/>
<circle cx="375.7" cy="304" r="1.5" fill="#111" stroke="none" stroke-width="1"/>
<circle cx="382.89" cy="304" r="1.5" fill="#111" stroke="none" stroke-width="1"/>
<circle cx="390.08" cy="304" r="1.5" fill="#111" stroke="none" stroke-width="1"/>
<circle cx="397.27" cy="304" r="1.5" fill="#111" stroke="none" stroke-width="1"/>
<circle cx="404.46" cy="304" r="1.5" fill="#111" stroke="none" stroke-width="1"/>
<circle cx="411.65" cy="304" r="1.5" fill="#111" stroke="none" stroke-width="1"/>
<circle cx="418.84" cy="304" r="1.5" fill="#111" stroke="none" stroke-width="1"/>
<circle cx="426.03" cy="304" r="1.5" fill="#111" stroke="none" stroke-width="1"/>
<circle cx="433.23" cy="304" r="1.5" fill="#111" stroke="none" stroke-width="1"/>
<circle cx="440.41" cy="304" r="1.5" fill="#111" stroke="none" stroke-width="1"/>
<circle cx="447.61" cy="304" r="1.5" fill="#111" stroke="none" stroke-width="1"/>
<circle cx="454.79" cy="304" r="1.5" fill="#111" stroke="none" stroke-width="1"/>
<circle cx="461.99" cy="304" r="1.5" fill="#111" stroke="none" stroke-width="1"/>
<circle cx="469.17" cy="304" r="1.5" fill="#111" stroke="none" stroke-width="1"/>
<circle cx="476.37" cy="304" r="1.5" fill="#111" stroke="none" stroke-width="1"/>
<circle cx="483.56" cy="304" r="1.5" fill="#111" stroke="none" stroke-width="1"/>
<path d="M307.4 304 L309.2 303.96 L311 303.92 L312.79 303.89 L314.59 303.86 L316.39 303.84 L318.19 303.82 L319.98 303.81 L321.78 303.79 L323.58 303.78 L325.38 303.77 L327.17 303.76 L328.97 303.76 L330.77 303.75 L332.56 303.75 L334.36 303.74 L336.16 303.74 L337.96 303.73 L339.75 303.73 L341.55 303.73 L343.35 303.73 L345.15 303.73 L346.94 303.73 L348.74 303.72 L350.54 303.72 L352.34 303.72 L354.13 303.72 L355.93 303.72 L357.73 303.72 L359.53 303.72 L361.32 303.72 L363.12 303.72 L364.92 303.72 L366.72 303.72 L368.51 303.72 L370.31 303.72 L372.11 303.72 L373.91 303.72 L375.7 303.72 L377.5 303.72 L379.3 303.72 L381.1 303.72 L382.89 303.72 L384.69 303.72 L386.49 303.72 L388.29 303.72 L390.08 303.72 L391.88 303.72 L393.68 303.72 L395.48 303.72 L397.27 303.72 L399.07 303.72 L400.87 303.72 L402.67 303.72 L404.46 303.72 L406.26 303.72 L408.06 303.72 L409.86 303.72 L411.65 303.72 L413.45 303.72 L415.25 303.72 L417.05 303.72 L418.84 303.72 L420.64 303.72 L422.44 303.72 L424.24 303.72 L426.03 303.72 L427.83 303.72 L429.63 303.72 L431.43 303.72 L433.23 303.72 L435.02 303.72 L436.82 303.72 L438.62 303.72 L440.41 303.72 L442.21 303.72 L444.01 303.72 L445.81 303.72 L447.61 303.72 L449.4 303.72 L451.2 303.72 L453 303.72 L454.79 303.72 L456.59 303.72 L458.39 303.72 L460.19 303.72 L461.99 303.72 L463.78 303.72 L465.58 303.72 L467.38 303.72 L469.17 303.72 L470.97 303.72 L472.77 303.72 L474.57 303.72 L476.37 303.72 L478.16 303.72 L479.96 303.72 L481.76 303.72 L483.56 303.72 L485.35 303.72 L487.15 303.72" stroke="#e02828" stroke-width="1.1" fill="none"/>
<circle cx="311" cy="303.92" r="1.5" fill="#e02828" stroke="none" stroke-width="1"/>
<circle cx="318.19" cy="303.82" r="1.5" fill="#e02828" stroke="none" stroke-width="1"/>
<circle cx="325.38" cy="303.77" r="1.5" fill="#e02828" stroke="none" stroke-width="1"/>
<circle cx="332.56" cy="303.75" r="1.5" fill="#e02828" stroke="none" stroke-width="1"/>
<circle cx="339.75" cy="303.73" r="1.5" fill="#e02828" stroke="none" stroke-width="1"/>
<circle cx="346.94" cy="303.73" r="1.5" fill="#e02828" stroke="none" stroke-width="1"/>
<circle cx="354.13" cy="303.72" r="1.5" fill="#e02828" stroke="none" stroke-width="1"/>
<circle cx="361.32" cy="303.72" r="1.5" fill="#e02828" stroke="none" stroke-width="1"/>
<circle cx="368.51" cy="303.72" r="1.5" fill="#e02828" stroke="none" stroke-width="1"/>
<circle cx="375.7" cy="303.72" r="1.5" fill="#e02828" stroke="none" stroke-width="1"/>
<circle cx="382.89" cy="303.72" r="1.5" fill="#e02828" stroke="none" stroke-width="1"/>
<circle cx="390.08" cy="303.72" r="1.5" fill="#e02828" stroke="none" stroke-width="1"/>
<circle cx="397.27" cy="303.72" r="1.5" fill="#e02828" stroke="none" stroke-width="1"/>
<circle cx="404.46" cy="303.72" r="1.5" fill="#e02828" stroke="none" stroke-width="1"/>
<circle cx="411.65" cy="303.72" r="1.5" fill="#e02828" stroke="none" stroke-width="1"/>
<circle cx="418.84" cy="303.72" r="1.5" fill="#e02828" stroke="none" stroke-width="1"/>
<circle cx="426.03" cy="303.72" r="1.5" fill="#e02828" stroke="none" stroke-width="1"/>
<circle cx="433.23" cy="303.72" r="1.5" fill="#e02828" stroke="none" stroke-width="1"/>
<circle cx="440.41" cy="303.72" r="1.5" fill="#e02828" stroke="none" stroke-width="1"/>
<circle cx="447.61" cy="303.72" r="1.5" fill="#e02828" stroke="none" stroke-width="1"/>
<circle cx="454.79" cy="303.72" r="1.5" fill="#e02828" stroke="none" stroke-width="1"/>
<circle cx="461.99" cy="303.72" r="1.5" fill="#e02828" stroke="none" stroke-width="1"/>
<circle cx="469.17" cy="303.72" r="1.5" fill="#e02828" stroke="none" stroke-width="1"/>
<circle cx="476.37" cy="303.72" r="1.5" fill="#e02828" stroke="none" stroke-width="1"/>
<circle cx="483.56" cy="303.72" r="1.5" fill="#e02828" stroke="none" stroke-width="1"/>
<path d="M307.4 304 L309.2 303.84 L311 303.69 L312.79 303.54 L314.59 303.4 L316.39 303.27 L318.19 303.14 L319.98 303.02 L321.78 302.9 L323.58 302.79 L325.38 302.68 L327.17 302.57 L328.97 302.47 L330.77 302.38 L332.56 302.29 L334.36 302.2 L336.16 302.11 L337.96 302.03 L339.75 301.95 L341.55 301.88 L343.35 301.81 L345.15 301.74 L346.94 301.67 L348.74 301.61 L350.54 301.55 L352.34 301.49 L354.13 301.43 L355.93 301.38 L357.73 301.33 L359.53 301.28 L361.32 301.23 L363.12 301.19 L364.92 301.14 L366.72 301.1 L368.51 301.06 L370.31 301.02 L372.11 300.99 L373.91 300.95 L375.7 300.92 L377.5 300.89 L379.3 300.85 L381.1 300.82 L382.89 300.8 L384.69 300.77 L386.49 300.74 L388.29 300.72 L390.08 300.69 L391.88 300.67 L393.68 300.65 L395.48 300.63 L397.27 300.61 L399.07 300.59 L400.87 300.57 L402.67 300.55 L404.46 300.53 L406.26 300.51 L408.06 300.5 L409.86 300.48 L411.65 300.47 L413.45 300.45 L415.25 300.44 L417.05 300.43 L418.84 300.42 L420.64 300.4 L422.44 300.39 L424.24 300.38 L426.03 300.37 L427.83 300.36 L429.63 300.35 L431.43 300.34 L433.23 300.33 L435.02 300.32 L436.82 300.32 L438.62 300.31 L440.41 300.3 L442.21 300.29 L444.01 300.29 L445.81 300.28 L447.61 300.27 L449.4 300.27 L451.2 300.26 L453 300.26 L454.79 300.25 L456.59 300.24 L458.39 300.24 L460.19 300.23 L461.99 300.23 L463.78 300.23 L465.58 300.22 L467.38 300.22 L469.17 300.21 L470.97 300.21 L472.77 300.21 L474.57 300.2 L476.37 300.2 L478.16 300.2 L479.96 300.19 L481.76 300.19 L483.56 300.19 L485.35 300.19 L487.15 300.18" stroke="#3030a8" stroke-width="1.1" fill="none"/>
<path d="M308.89 305.19 L311 301.59 L313.1 305.19 Z" fill="#3030a8"/>
<path d="M316.08 304.64 L318.19 301.04 L320.29 304.64 Z" fill="#3030a8"/>
<path d="M323.27 304.18 L325.38 300.58 L327.48 304.18 Z" fill="#3030a8"/>
<path d="M330.46 303.79 L332.56 300.19 L334.67 303.79 Z" fill="#3030a8"/>
<path d="M337.65 303.45 L339.75 299.85 L341.86 303.45 Z" fill="#3030a8"/>
<path d="M344.84 303.17 L346.94 299.57 L349.05 303.17 Z" fill="#3030a8"/>
<path d="M352.03 302.93 L354.13 299.33 L356.24 302.93 Z" fill="#3030a8"/>
<path d="M359.22 302.73 L361.32 299.13 L363.43 302.73 Z" fill="#3030a8"/>
<path d="M366.41 302.56 L368.51 298.96 L370.62 302.56 Z" fill="#3030a8"/>
<path d="M373.6 302.42 L375.7 298.82 L377.81 302.42 Z" fill="#3030a8"/>
<path d="M380.79 302.3 L382.89 298.7 L385 302.3 Z" fill="#3030a8"/>
<path d="M387.98 302.19 L390.08 298.59 L392.19 302.19 Z" fill="#3030a8"/>
<path d="M395.17 302.11 L397.27 298.51 L399.38 302.11 Z" fill="#3030a8"/>
<path d="M402.36 302.03 L404.46 298.43 L406.56 302.03 Z" fill="#3030a8"/>
<path d="M409.55 301.97 L411.65 298.37 L413.75 301.97 Z" fill="#3030a8"/>
<path d="M416.74 301.92 L418.84 298.32 L420.94 301.92 Z" fill="#3030a8"/>
<path d="M423.93 301.87 L426.03 298.27 L428.13 301.87 Z" fill="#3030a8"/>
<path d="M431.12 301.83 L433.23 298.23 L435.33 301.83 Z" fill="#3030a8"/>
<path d="M438.31 301.8 L440.41 298.2 L442.51 301.8 Z" fill="#3030a8"/>
<path d="M445.5 301.77 L447.61 298.17 L449.71 301.77 Z" fill="#3030a8"/>
<path d="M452.69 301.75 L454.79 298.15 L456.89 301.75 Z" fill="#3030a8"/>
<path d="M459.88 301.73 L461.99 298.13 L464.09 301.73 Z" fill="#3030a8"/>
<path d="M467.07 301.71 L469.17 298.11 L471.27 301.71 Z" fill="#3030a8"/>
<path d="M474.26 301.7 L476.37 298.1 L478.47 301.7 Z" fill="#3030a8"/>
<path d="M481.45 301.69 L483.56 298.09 L485.66 301.69 Z" fill="#3030a8"/>
<path d="M307.4 304 L309.2 303.21 L311 302.46 L312.79 301.74 L314.59 301.06 L316.39 300.41 L318.19 299.8 L319.98 299.21 L321.78 298.65 L323.58 298.12 L325.38 297.62 L327.17 297.14 L328.97 296.68 L330.77 296.25 L332.56 295.84 L334.36 295.44 L336.16 295.07 L337.96 294.72 L339.75 294.38 L341.55 294.06 L343.35 293.75 L345.15 293.46 L346.94 293.18 L348.74 292.92 L350.54 292.67 L352.34 292.43 L354.13 292.2 L355.93 291.99 L357.73 291.78 L359.53 291.59 L361.32 291.4 L363.12 291.23 L364.92 291.06 L366.72 290.9 L368.51 290.75 L370.31 290.6 L372.11 290.47 L373.91 290.33 L375.7 290.21 L377.5 290.09 L379.3 289.98 L381.1 289.87 L382.89 289.77 L384.69 289.67 L386.49 289.58 L388.29 289.49 L390.08 289.41 L391.88 289.33 L393.68 289.26 L395.48 289.18 L397.27 289.12 L399.07 289.05 L400.87 288.99 L402.67 288.93 L404.46 288.87 L406.26 288.82 L408.06 288.77 L409.86 288.72 L411.65 288.68 L413.45 288.63 L415.25 288.59 L417.05 288.55 L418.84 288.52 L420.64 288.48 L422.44 288.45 L424.24 288.41 L426.03 288.38 L427.83 288.35 L429.63 288.33 L431.43 288.3 L433.23 288.27 L435.02 288.25 L436.82 288.23 L438.62 288.21 L440.41 288.19 L442.21 288.17 L444.01 288.15 L445.81 288.13 L447.61 288.11 L449.4 288.1 L451.2 288.08 L453 288.07 L454.79 288.05 L456.59 288.04 L458.39 288.03 L460.19 288.02 L461.99 288.01 L463.78 287.99 L465.58 287.98 L467.38 287.97 L469.17 287.97 L470.97 287.96 L472.77 287.95 L474.57 287.94 L476.37 287.93 L478.16 287.93 L479.96 287.92 L481.76 287.91 L483.56 287.91 L485.35 287.9 L487.15 287.89" stroke="#2a8898" stroke-width="1.1" fill="none"/>
<path d="M308.89 300.96 L311 304.56 L313.1 300.96 Z" fill="#2a8898"/>
<path d="M316.08 298.3 L318.19 301.9 L320.29 298.3 Z" fill="#2a8898"/>
<path d="M323.27 296.12 L325.38 299.72 L327.48 296.12 Z" fill="#2a8898"/>
<path d="M330.46 294.34 L332.56 297.94 L334.67 294.34 Z" fill="#2a8898"/>
<path d="M337.65 292.88 L339.75 296.48 L341.86 292.88 Z" fill="#2a8898"/>
<path d="M344.84 291.68 L346.94 295.28 L349.05 291.68 Z" fill="#2a8898"/>
<path d="M352.03 290.7 L354.13 294.3 L356.24 290.7 Z" fill="#2a8898"/>
<path d="M359.22 289.9 L361.32 293.5 L363.43 289.9 Z" fill="#2a8898"/>
<path d="M366.41 289.25 L368.51 292.85 L370.62 289.25 Z" fill="#2a8898"/>
<path d="M373.6 288.71 L375.7 292.31 L377.81 288.71 Z" fill="#2a8898"/>
<path d="M380.79 288.27 L382.89 291.87 L385 288.27 Z" fill="#2a8898"/>
<path d="M387.98 287.91 L390.08 291.51 L392.19 287.91 Z" fill="#2a8898"/>
<path d="M395.17 287.62 L397.27 291.22 L399.38 287.62 Z" fill="#2a8898"/>
<path d="M402.36 287.37 L404.46 290.97 L406.56 287.37 Z" fill="#2a8898"/>
<path d="M409.55 287.18 L411.65 290.78 L413.75 287.18 Z" fill="#2a8898"/>
<path d="M416.74 287.02 L418.84 290.62 L420.94 287.02 Z" fill="#2a8898"/>
<path d="M423.93 286.88 L426.03 290.48 L428.13 286.88 Z" fill="#2a8898"/>
<path d="M431.12 286.77 L433.23 290.37 L435.33 286.77 Z" fill="#2a8898"/>
<path d="M438.31 286.69 L440.41 290.29 L442.51 286.69 Z" fill="#2a8898"/>
<path d="M445.5 286.61 L447.61 290.21 L449.71 286.61 Z" fill="#2a8898"/>
<path d="M452.69 286.55 L454.79 290.15 L456.89 286.55 Z" fill="#2a8898"/>
<path d="M459.88 286.51 L461.99 290.11 L464.09 286.51 Z" fill="#2a8898"/>
<path d="M467.07 286.47 L469.17 290.07 L471.27 286.47 Z" fill="#2a8898"/>
<path d="M474.26 286.43 L476.37 290.03 L478.47 286.43 Z" fill="#2a8898"/>
<path d="M481.45 286.41 L483.56 290.01 L485.66 286.41 Z" fill="#2a8898"/>
<path d="M307.4 304 L309.2 302.06 L311 300.21 L312.79 298.42 L314.59 296.7 L316.39 295.05 L318.19 293.47 L319.98 291.95 L321.78 290.49 L323.58 289.08 L325.38 287.73 L327.17 286.43 L328.97 285.19 L330.77 283.99 L332.56 282.84 L334.36 281.73 L336.16 280.67 L337.96 279.65 L339.75 278.67 L341.55 277.73 L343.35 276.82 L345.15 275.95 L346.94 275.12 L348.74 274.32 L350.54 273.55 L352.34 272.8 L354.13 272.09 L355.93 271.41 L357.73 270.75 L359.53 270.12 L361.32 269.51 L363.12 268.93 L364.92 268.37 L366.72 267.83 L368.51 267.32 L370.31 266.82 L372.11 266.34 L373.91 265.88 L375.7 265.44 L377.5 265.02 L379.3 264.61 L381.1 264.22 L382.89 263.85 L384.69 263.49 L386.49 263.14 L388.29 262.81 L390.08 262.49 L391.88 262.18 L393.68 261.89 L395.48 261.6 L397.27 261.33 L399.07 261.07 L400.87 260.82 L402.67 260.57 L404.46 260.34 L406.26 260.12 L408.06 259.9 L409.86 259.7 L411.65 259.5 L413.45 259.31 L415.25 259.13 L417.05 258.95 L418.84 258.78 L420.64 258.62 L422.44 258.46 L424.24 258.32 L426.03 258.17 L427.83 258.03 L429.63 257.9 L431.43 257.77 L433.23 257.65 L435.02 257.53 L436.82 257.42 L438.62 257.31 L440.41 257.21 L442.21 257.11 L444.01 257.01 L445.81 256.92 L447.61 256.83 L449.4 256.74 L451.2 256.66 L453 256.58 L454.79 256.51 L456.59 256.43 L458.39 256.36 L460.19 256.3 L461.99 256.23 L463.78 256.17 L465.58 256.11 L467.38 256.05 L469.17 256 L470.97 255.95 L472.77 255.89 L474.57 255.85 L476.37 255.8 L478.16 255.75 L479.96 255.71 L481.76 255.67 L483.56 255.63 L485.35 255.59 L487.15 255.55" stroke="#c0304c" stroke-width="1.1" fill="none"/>
<path d="M312.5 298.11 L308.89 300.21 L312.5 302.31 Z" fill="#c0304c"/>
<path d="M319.69 291.37 L316.08 293.47 L319.69 295.57 Z" fill="#c0304c"/>
<path d="M326.88 285.63 L323.27 287.73 L326.88 289.83 Z" fill="#c0304c"/>
<path d="M334.06 280.74 L330.46 282.84 L334.06 284.94 Z" fill="#c0304c"/>
<path d="M341.25 276.57 L337.65 278.67 L341.25 280.77 Z" fill="#c0304c"/>
<path d="M348.44 273.02 L344.84 275.12 L348.44 277.22 Z" fill="#c0304c"/>
<path d="M355.63 269.99 L352.03 272.09 L355.63 274.19 Z" fill="#c0304c"/>
<path d="M362.82 267.41 L359.22 269.51 L362.82 271.61 Z" fill="#c0304c"/>
<path d="M370.01 265.22 L366.41 267.32 L370.01 269.42 Z" fill="#c0304c"/>
<path d="M377.2 263.34 L373.6 265.44 L377.2 267.54 Z" fill="#c0304c"/>
<path d="M384.39 261.75 L380.79 263.85 L384.39 265.95 Z" fill="#c0304c"/>
<path d="M391.58 260.39 L387.98 262.49 L391.58 264.59 Z" fill="#c0304c"/>
<path d="M398.77 259.23 L395.17 261.33 L398.77 263.43 Z" fill="#c0304c"/>
<path d="M405.96 258.24 L402.36 260.34 L405.96 262.44 Z" fill="#c0304c"/>
<path d="M413.15 257.4 L409.55 259.5 L413.15 261.6 Z" fill="#c0304c"/>
<path d="M420.34 256.68 L416.74 258.78 L420.34 260.88 Z" fill="#c0304c"/>
<path d="M427.53 256.07 L423.93 258.17 L427.53 260.27 Z" fill="#c0304c"/>
<path d="M434.73 255.55 L431.12 257.65 L434.73 259.75 Z" fill="#c0304c"/>
<path d="M441.91 255.11 L438.31 257.21 L441.91 259.31 Z" fill="#c0304c"/>
<path d="M449.11 254.73 L445.5 256.83 L449.11 258.93 Z" fill="#c0304c"/>
<path d="M456.29 254.41 L452.69 256.51 L456.29 258.61 Z" fill="#c0304c"/>
<path d="M463.49 254.13 L459.88 256.23 L463.49 258.33 Z" fill="#c0304c"/>
<path d="M470.67 253.9 L467.07 256 L470.67 258.1 Z" fill="#c0304c"/>
<path d="M477.87 253.7 L474.26 255.8 L477.87 257.9 Z" fill="#c0304c"/>
<path d="M485.06 253.53 L481.45 255.63 L485.06 257.73 Z" fill="#c0304c"/>
<path d="M307.4 304 L309.2 300.53 L311 297.17 L312.79 293.91 L314.59 290.75 L316.39 287.68 L318.19 284.71 L319.98 281.84 L321.78 279.05 L323.58 276.35 L325.38 273.73 L327.17 271.19 L328.97 268.73 L330.77 266.34 L332.56 264.03 L334.36 261.79 L336.16 259.62 L337.96 257.51 L339.75 255.47 L341.55 253.49 L343.35 251.58 L345.15 249.72 L346.94 247.92 L348.74 246.17 L350.54 244.48 L352.34 242.84 L354.13 241.25 L355.93 239.71 L357.73 238.22 L359.53 236.78 L361.32 235.37 L363.12 234.01 L364.92 232.7 L366.72 231.42 L368.51 230.18 L370.31 228.98 L372.11 227.82 L373.91 226.69 L375.7 225.6 L377.5 224.54 L379.3 223.52 L381.1 222.52 L382.89 221.56 L384.69 220.63 L386.49 219.72 L388.29 218.84 L390.08 217.99 L391.88 217.17 L393.68 216.37 L395.48 215.59 L397.27 214.84 L399.07 214.12 L400.87 213.41 L402.67 212.73 L404.46 212.07 L406.26 211.42 L408.06 210.8 L409.86 210.2 L411.65 209.61 L413.45 209.05 L415.25 208.5 L417.05 207.97 L418.84 207.45 L420.64 206.95 L422.44 206.47 L424.24 206 L426.03 205.54 L427.83 205.1 L429.63 204.67 L431.43 204.26 L433.23 203.86 L435.02 203.47 L436.82 203.09 L438.62 202.72 L440.41 202.37 L442.21 202.03 L444.01 201.69 L445.81 201.37 L447.61 201.06 L449.4 200.75 L451.2 200.46 L453 200.17 L454.79 199.9 L456.59 199.63 L458.39 199.37 L460.19 199.12 L461.99 198.88 L463.78 198.64 L465.58 198.41 L467.38 198.19 L469.17 197.97 L470.97 197.77 L472.77 197.56 L474.57 197.37 L476.37 197.18 L478.16 196.99 L479.96 196.82 L481.76 196.64 L483.56 196.48 L485.35 196.31 L487.15 196.16" stroke="#6a7a2c" stroke-width="1.1" fill="none"/>
<path d="M309.5 295.07 L313.1 297.17 L309.5 299.27 Z" fill="#6a7a2c"/>
<path d="M316.69 282.61 L320.29 284.71 L316.69 286.81 Z" fill="#6a7a2c"/>
<path d="M323.88 271.63 L327.48 273.73 L323.88 275.83 Z" fill="#6a7a2c"/>
<path d="M331.06 261.93 L334.67 264.03 L331.06 266.13 Z" fill="#6a7a2c"/>
<path d="M338.25 253.37 L341.86 255.47 L338.25 257.57 Z" fill="#6a7a2c"/>
<path d="M345.44 245.82 L349.05 247.92 L345.44 250.02 Z" fill="#6a7a2c"/>
<path d="M352.63 239.15 L356.24 241.25 L352.63 243.35 Z" fill="#6a7a2c"/>
<path d="M359.82 233.27 L363.43 235.37 L359.82 237.47 Z" fill="#6a7a2c"/>
<path d="M367.01 228.08 L370.62 230.18 L367.01 232.28 Z" fill="#6a7a2c"/>
<path d="M374.2 223.5 L377.81 225.6 L374.2 227.7 Z" fill="#6a7a2c"/>
<path d="M381.39 219.46 L385 221.56 L381.39 223.66 Z" fill="#6a7a2c"/>
<path d="M388.58 215.89 L392.19 217.99 L388.58 220.09 Z" fill="#6a7a2c"/>
<path d="M395.77 212.74 L399.38 214.84 L395.77 216.94 Z" fill="#6a7a2c"/>
<path d="M402.96 209.97 L406.56 212.07 L402.96 214.17 Z" fill="#6a7a2c"/>
<path d="M410.15 207.51 L413.75 209.61 L410.15 211.71 Z" fill="#6a7a2c"/>
<path d="M417.34 205.35 L420.94 207.45 L417.34 209.55 Z" fill="#6a7a2c"/>
<path d="M424.53 203.44 L428.13 205.54 L424.53 207.64 Z" fill="#6a7a2c"/>
<path d="M431.73 201.76 L435.33 203.86 L431.73 205.96 Z" fill="#6a7a2c"/>
<path d="M438.91 200.27 L442.51 202.37 L438.91 204.47 Z" fill="#6a7a2c"/>
<path d="M446.11 198.96 L449.71 201.06 L446.11 203.16 Z" fill="#6a7a2c"/>
<path d="M453.29 197.8 L456.89 199.9 L453.29 202 Z" fill="#6a7a2c"/>
<path d="M460.49 196.78 L464.09 198.88 L460.49 200.98 Z" fill="#6a7a2c"/>
<path d="M467.67 195.87 L471.27 197.97 L467.67 200.07 Z" fill="#6a7a2c"/>
<path d="M474.87 195.08 L478.47 197.18 L474.87 199.28 Z" fill="#6a7a2c"/>
<path d="M482.06 194.38 L485.66 196.48 L482.06 198.58 Z" fill="#6a7a2c"/>
<text x="320.8" y="187" font-size="10.5" font-weight="bold" fill="#231f20">V<tspan font-size="8" dy="2">e</tspan></text>
<line x1="315" y1="195.4" x2="326.7" y2="195.4" stroke="#111" stroke-width="1.1"/>
<circle cx="321.2" cy="195.4" r="1.95" fill="#111" stroke="none" stroke-width="1"/>
<text x="327.6" y="198.3" font-size="8.3" text-anchor="start" fill="#231f20" font-weight="bold">0 V</text>
<line x1="315" y1="205.18" x2="326.7" y2="205.18" stroke="#e02828" stroke-width="1.1"/>
<circle cx="321.2" cy="205.18" r="1.95" fill="#e02828" stroke="none" stroke-width="1"/>
<text x="327.6" y="208.08" font-size="8.3" text-anchor="start" fill="#231f20" font-weight="bold">1 V</text>
<line x1="315" y1="214.96" x2="326.7" y2="214.96" stroke="#3030a8" stroke-width="1.1"/>
<path d="M318.47 216.91 L321.2 212.23 L323.93 216.91 Z" fill="#3030a8"/>
<text x="327.6" y="217.86" font-size="8.3" text-anchor="start" fill="#231f20" font-weight="bold">2 V</text>
<line x1="315" y1="224.74" x2="326.7" y2="224.74" stroke="#2a8898" stroke-width="1.1"/>
<path d="M318.47 222.79 L321.2 227.47 L323.93 222.79 Z" fill="#2a8898"/>
<text x="327.6" y="227.64" font-size="8.3" text-anchor="start" fill="#231f20" font-weight="bold">3 V</text>
<line x1="315" y1="234.52" x2="326.7" y2="234.52" stroke="#c0304c" stroke-width="1.1"/>
<path d="M323.15 231.79 L318.47 234.52 L323.15 237.25 Z" fill="#c0304c"/>
<text x="327.6" y="237.42" font-size="8.3" text-anchor="start" fill="#231f20" font-weight="bold">4 V</text>
<line x1="315" y1="244.3" x2="326.7" y2="244.3" stroke="#6a7a2c" stroke-width="1.1"/>
<path d="M319.25 241.57 L323.93 244.3 L319.25 247.03 Z" fill="#6a7a2c"/>
<text x="327.6" y="247.2" font-size="8.3" text-anchor="start" fill="#231f20" font-weight="bold">5 V</text>
<text x="500" y="181" font-size="13" text-anchor="start" fill="#231f20" font-weight="bold">(f)</text>
<rect x="546.5" y="178" width="183.7" height="134" fill="none" stroke="#666" stroke-width="1.2"/>
<line x1="546.5" y1="305.8" x2="550.1" y2="305.8" stroke="#555" stroke-width="1.1"/>
<line x1="546.5" y1="280" x2="550.1" y2="280" stroke="#555" stroke-width="1.1"/>
<line x1="546.5" y1="254.2" x2="550.1" y2="254.2" stroke="#555" stroke-width="1.1"/>
<line x1="546.5" y1="228.4" x2="550.1" y2="228.4" stroke="#555" stroke-width="1.1"/>
<line x1="546.5" y1="202.6" x2="550.1" y2="202.6" stroke="#555" stroke-width="1.1"/>
<line x1="577.5" y1="312" x2="577.5" y2="308.4" stroke="#555" stroke-width="1.1"/>
<line x1="638.5" y1="312" x2="638.5" y2="308.4" stroke="#555" stroke-width="1.1"/>
<line x1="699.3" y1="312" x2="699.3" y2="308.4" stroke="#555" stroke-width="1.1"/>
<text x="544.2" y="310.4" font-size="13" text-anchor="end" fill="#231f20">0</text>
<text x="544.2" y="284.6" font-size="13" text-anchor="end" fill="#231f20">2</text>
<text x="544.2" y="258.8" font-size="13" text-anchor="end" fill="#231f20">4</text>
<text x="544.2" y="233" font-size="13" text-anchor="end" fill="#231f20">6</text>
<text x="544.2" y="207.2" font-size="13" text-anchor="end" fill="#231f20">8</text>
<text x="544.2" y="181.4" font-size="13" text-anchor="end" fill="#231f20">10</text>
<rect x="556.5" y="282.58" width="42.4" height="20" fill="none" stroke="#3a3a8c" stroke-width="1.1"/>
<line x1="556.5" y1="299.35" x2="598.9" y2="299.35" stroke="#3a3a8c" stroke-width="1.1"/>
<line x1="577.7" y1="282.58" x2="577.7" y2="278.06" stroke="#3a3a8c" stroke-width="1.1"/>
<line x1="577.7" y1="302.57" x2="577.7" y2="305.16" stroke="#3a3a8c" stroke-width="1.1"/>
<line x1="575" y1="278.06" x2="580.4" y2="278.06" stroke="#3a3a8c" stroke-width="1.1"/>
<line x1="575" y1="305.16" x2="580.4" y2="305.16" stroke="#3a3a8c" stroke-width="1.1"/>
<circle cx="577.7" cy="290.32" r="0.9" fill="#3a3a8c" stroke="none" stroke-width="1"/>
<rect x="617.1" y="245.81" width="42.6" height="57.41" fill="none" stroke="#3cb878" stroke-width="1.1"/>
<line x1="617.1" y1="258.72" x2="659.7" y2="258.72" stroke="#3cb878" stroke-width="1.1"/>
<line x1="638.4" y1="245.81" x2="638.4" y2="225.18" stroke="#3cb878" stroke-width="1.1"/>
<line x1="638.4" y1="303.22" x2="638.4" y2="305.8" stroke="#3cb878" stroke-width="1.1"/>
<line x1="635.7" y1="225.18" x2="641.1" y2="225.18" stroke="#3cb878" stroke-width="1.1"/>
<line x1="635.7" y1="305.8" x2="641.1" y2="305.8" stroke="#3cb878" stroke-width="1.1"/>
<circle cx="638.4" cy="266.46" r="0.9" fill="#3cb878" stroke="none" stroke-width="1"/>
<rect x="678.3" y="224.53" width="42.4" height="34.19" fill="none" stroke="#e0403a" stroke-width="1.1"/>
<line x1="678.3" y1="241.94" x2="720.7" y2="241.94" stroke="#e0403a" stroke-width="1.1"/>
<line x1="699.5" y1="224.53" x2="699.5" y2="195.5" stroke="#e0403a" stroke-width="1.1"/>
<line x1="699.5" y1="258.72" x2="699.5" y2="280" stroke="#e0403a" stroke-width="1.1"/>
<line x1="696.8" y1="195.5" x2="702.2" y2="195.5" stroke="#e0403a" stroke-width="1.1"/>
<line x1="696.8" y1="280" x2="702.2" y2="280" stroke="#e0403a" stroke-width="1.1"/>
<circle cx="699.5" cy="240.01" r="0.9" fill="#e0403a" stroke="none" stroke-width="1"/>
<text x="577.5" y="325.2" font-size="12.7" text-anchor="middle" fill="#231f20">As-grown</text>
<text x="577.5" y="340.8" font-size="12.5" text-anchor="middle" fill="#231f20">MoS<tspan font-size="9.5" dy="2.5">2</tspan></text>
<text x="638.5" y="325.2" font-size="12.7" text-anchor="middle" fill="#231f20">Transferred</text>
<text x="638.5" y="340.8" font-size="12.5" text-anchor="middle" fill="#231f20">MoS<tspan font-size="9.5" dy="2.5">2</tspan></text>
<text x="714.7" y="325.8" font-size="12.7" text-anchor="middle" fill="#231f20">Gr-MoS<tspan font-size="9.5" dy="2.5">2</tspan></text>
<text x="714.7" y="344.4" font-size="12.7" text-anchor="middle" fill="#231f20">Heterostructure</text>
<text x="512.8" y="244" font-size="13" text-anchor="middle" fill="#231f20" transform="rotate(-90 512.8 244)">Field effect</text>
<text x="529.5" y="244" font-size="13" text-anchor="middle" fill="#231f20" transform="rotate(-90 529.5 244)">mobility (cm<tspan font-size="9" dy="-4.5">2</tspan><tspan dy="4.5"> (V sec)</tspan><tspan font-size="9" dy="-4.5">−1</tspan><tspan dy="4.5">)</tspan></text>
<text x="7.8" y="369.6" font-size="13" text-anchor="start" fill="#231f20" font-weight="bold">(g)</text>
<rect x="49.6" y="362.2" width="179.6" height="173.1" fill="none" stroke="#333" stroke-width="1.1"/>
<line x1="49.6" y1="516.3" x2="53.2" y2="516.3" stroke="#333" stroke-width="1.1"/>
<line x1="49.6" y1="470.9" x2="53.2" y2="470.9" stroke="#333" stroke-width="1.1"/>
<line x1="49.6" y1="425.5" x2="53.2" y2="425.5" stroke="#333" stroke-width="1.1"/>
<line x1="49.6" y1="380.1" x2="53.2" y2="380.1" stroke="#333" stroke-width="1.1"/>
<line x1="63.7" y1="535.3" x2="63.7" y2="531.7" stroke="#333" stroke-width="1.1"/>
<line x1="100.2" y1="535.3" x2="100.2" y2="531.7" stroke="#333" stroke-width="1.1"/>
<line x1="136.7" y1="535.3" x2="136.7" y2="531.7" stroke="#333" stroke-width="1.1"/>
<line x1="173.19" y1="535.3" x2="173.19" y2="531.7" stroke="#333" stroke-width="1.1"/>
<line x1="209.69" y1="535.3" x2="209.69" y2="531.7" stroke="#333" stroke-width="1.1"/>
<text x="47" y="520.9" font-size="13" text-anchor="end" fill="#231f20">0.7</text>
<text x="47" y="475.5" font-size="13" text-anchor="end" fill="#231f20">0.8</text>
<text x="47" y="430.1" font-size="13" text-anchor="end" fill="#231f20">0.9</text>
<text x="47" y="384.7" font-size="13" text-anchor="end" fill="#231f20">1.0</text>
<text x="63.7" y="548.9" font-size="13" text-anchor="middle" fill="#231f20">300</text>
<text x="100.2" y="548.9" font-size="13" text-anchor="middle" fill="#231f20">240</text>
<text x="136.7" y="548.9" font-size="13" text-anchor="middle" fill="#231f20">180</text>
<text x="173.19" y="548.9" font-size="13" text-anchor="middle" fill="#231f20">120</text>
<text x="209.69" y="548.9" font-size="13" text-anchor="middle" fill="#231f20">60</text>
<text x="141" y="564.1" font-size="13" text-anchor="middle" fill="#231f20">T (K)</text>
<text x="22.9" y="448" font-size="13" text-anchor="middle" fill="#231f20" transform="rotate(-90 22.9 448)">Non-linearity (R<tspan font-size="9.5" dy="2.5">square</tspan><tspan dy="-2.5">)</tspan></text>
<rect x="61.4" y="377.2" width="5" height="5" fill="#3a66b6" stroke="none" stroke-width="1"/>
<rect x="79.8" y="377.2" width="5" height="5" fill="#3a66b6" stroke="none" stroke-width="1"/>
<rect x="98.4" y="378" width="5" height="5" fill="#3a66b6" stroke="none" stroke-width="1"/>
<rect x="122.5" y="378.8" width="5" height="5" fill="#3a66b6" stroke="none" stroke-width="1"/>
<rect x="141" y="379.3" width="5" height="5" fill="#3a66b6" stroke="none" stroke-width="1"/>
<rect x="159.1" y="380.7" width="5" height="5" fill="#3a66b6" stroke="none" stroke-width="1"/>
<rect x="177.9" y="382.7" width="5" height="5" fill="#3a66b6" stroke="none" stroke-width="1"/>
<rect x="196.5" y="385.4" width="5" height="5" fill="#3a66b6" stroke="none" stroke-width="1"/>
<rect x="220.5" y="391.3" width="5" height="5" fill="#3a66b6" stroke="none" stroke-width="1"/>
<circle cx="63.9" cy="381.3" r="3" fill="#e03030" stroke="none" stroke-width="1"/>
<circle cx="82.3" cy="387.6" r="3" fill="#e03030" stroke="none" stroke-width="1"/>
<circle cx="100.9" cy="396.8" r="3" fill="#e03030" stroke="none" stroke-width="1"/>
<circle cx="125" cy="407.1" r="3" fill="#e03030" stroke="none" stroke-width="1"/>
<circle cx="143.5" cy="425.1" r="3" fill="#e03030" stroke="none" stroke-width="1"/>
<circle cx="161.6" cy="431.1" r="3" fill="#e03030" stroke="none" stroke-width="1"/>
<circle cx="180.4" cy="444.8" r="3" fill="#e03030" stroke="none" stroke-width="1"/>
<circle cx="199" cy="456.7" r="3" fill="#e03030" stroke="none" stroke-width="1"/>
<circle cx="223" cy="470.5" r="3" fill="#e03030" stroke="none" stroke-width="1"/>
<text x="54.8" y="417" font-size="12.5" font-weight="bold" fill="#231f20">V<tspan font-size="9.5" dy="2.5">g</tspan><tspan dy="-2.5"> = 80 V</tspan></text>
<text x="228.6" y="377.9" font-size="12.5" font-weight="bold" text-anchor="end" fill="#231f20">MoS<tspan font-size="9.5" dy="2.5">2</tspan><tspan dy="-2.5">/Gr</tspan></text>
<text x="228" y="425.4" font-size="12.5" font-weight="bold" text-anchor="end" fill="#231f20">MoS<tspan font-size="9.5" dy="2.5">2</tspan><tspan dy="-2.5">/Metal</tspan></text>
<rect x="77.4" y="436.6" width="97.1" height="74.5" fill="#fff" stroke="#444" stroke-width="1.1"/>
<line x1="77.4" y1="507" x2="80.4" y2="507" stroke="#444" stroke-width="1.1"/>
<line x1="77.4" y1="439.6" x2="80.4" y2="439.6" stroke="#444" stroke-width="1.1"/>
<line x1="81.5" y1="511.1" x2="81.5" y2="508.1" stroke="#444" stroke-width="1.1"/>
<line x1="170.1" y1="511.1" x2="170.1" y2="508.1" stroke="#444" stroke-width="1.1"/>
<text x="76.2" y="511.2" font-size="11.5" text-anchor="end" fill="#231f20">0</text>
<text x="76.2" y="443.8" font-size="11.5" text-anchor="end" fill="#231f20">1</text>
<text x="81.5" y="521.8" font-size="11.5" text-anchor="middle" fill="#231f20">0</text>
<text x="170.1" y="521.8" font-size="11.5" text-anchor="middle" fill="#231f20">1</text>
<text x="126" y="529.3" font-size="11.5" text-anchor="middle" fill="#231f20">V<tspan font-size="8" dy="2">ds</tspan><tspan dy="-2"> (V)</tspan></text>
<text x="65.5" y="473.5" font-size="11" text-anchor="middle" fill="#231f20" transform="rotate(-90 65.5 473.5)">I<tspan font-size="8" dy="2">d</tspan><tspan dy="-2">/(I</tspan><tspan font-size="8" dy="2">d</tspan><tspan dy="-2">@V</tspan><tspan font-size="8" dy="2">ds</tspan><tspan dy="-2"> = 1 V)</tspan></text>
<path d="M81.5 507 L85.93 506.25 L90.36 504.87 L94.79 503.08 L99.22 500.97 L103.65 498.57 L108.08 495.93 L112.51 493.04 L116.94 489.95 L121.37 486.65 L125.8 483.17 L130.23 479.51 L134.66 475.68 L139.09 471.68 L143.52 467.53 L147.95 463.22 L152.38 458.77 L156.81 454.18 L161.24 449.45 L165.67 444.59 L170.1 439.6" stroke="#e02c2c" stroke-width="2" fill="none"/>
<path d="M81.5 507 L85.93 504.5 L90.36 501.65 L94.79 498.64 L99.22 495.52 L103.65 492.33 L108.08 489.07 L112.51 485.76 L116.94 482.4 L121.37 479 L125.8 475.56 L130.23 472.08 L134.66 468.57 L139.09 465.04 L143.52 461.47 L147.95 457.88 L152.38 454.27 L156.81 450.63 L161.24 446.98 L165.67 443.3 L170.1 439.6" stroke="#3050b0" stroke-width="2" fill="none"/>
<text x="250.6" y="369.6" font-size="13" text-anchor="start" fill="#231f20" font-weight="bold">(h)</text>
<rect x="295.7" y="363.2" width="174.6" height="171.9" fill="none" stroke="#666" stroke-width="1.3"/>
<line x1="295.7" y1="491.7" x2="299.7" y2="491.7" stroke="#555" stroke-width="1.2"/>
<line x1="295.7" y1="448.9" x2="299.7" y2="448.9" stroke="#555" stroke-width="1.2"/>
<line x1="295.7" y1="406.1" x2="299.7" y2="406.1" stroke="#555" stroke-width="1.2"/>
<line x1="310.4" y1="535.1" x2="310.4" y2="531.1" stroke="#555" stroke-width="1.2"/>
<line x1="340.2" y1="535.1" x2="340.2" y2="531.1" stroke="#555" stroke-width="1.2"/>
<line x1="370" y1="535.1" x2="370" y2="531.1" stroke="#555" stroke-width="1.2"/>
<line x1="399.8" y1="535.1" x2="399.8" y2="531.1" stroke="#555" stroke-width="1.2"/>
<line x1="429.6" y1="535.1" x2="429.6" y2="531.1" stroke="#555" stroke-width="1.2"/>
<line x1="459.4" y1="535.1" x2="459.4" y2="531.1" stroke="#555" stroke-width="1.2"/>
<text x="293.1" y="539.1" font-size="13" text-anchor="end" fill="#231f20">0</text>
<text x="293.1" y="496.3" font-size="13" text-anchor="end" fill="#231f20">25</text>
<text x="293.1" y="453.5" font-size="13" text-anchor="end" fill="#231f20">50</text>
<text x="293.1" y="410.7" font-size="13" text-anchor="end" fill="#231f20">75</text>
<text x="293.1" y="367.9" font-size="13" text-anchor="end" fill="#231f20">100</text>
<text x="310.4" y="547.8" font-size="13" text-anchor="middle" fill="#231f20">10</text>
<text x="340.2" y="547.8" font-size="13" text-anchor="middle" fill="#231f20">20</text>
<text x="370" y="547.8" font-size="13" text-anchor="middle" fill="#231f20">30</text>
<text x="399.8" y="547.8" font-size="13" text-anchor="middle" fill="#231f20">40</text>
<text x="429.6" y="547.8" font-size="13" text-anchor="middle" fill="#231f20">50</text>
<text x="459.4" y="547.8" font-size="13" text-anchor="middle" fill="#231f20">60</text>
<text x="386" y="563.8" font-size="13" text-anchor="middle" fill="#231f20">V<tspan font-size="9.5" dy="2.5">g</tspan><tspan dy="-2.5"> (V)</tspan></text>
<text x="272.6" y="448.7" font-size="13" text-anchor="middle" fill="#231f20" transform="rotate(-90 272.6 448.7)">Φ (meV)</text>
<circle cx="309.9" cy="383.3" r="3.1" fill="#e03030" stroke="none" stroke-width="1"/>
<circle cx="340" cy="376.9" r="3.1" fill="#e03030" stroke="none" stroke-width="1"/>
<circle cx="399.6" cy="413.1" r="3.1" fill="#e03030" stroke="none" stroke-width="1"/>
<circle cx="458.9" cy="431.8" r="3.1" fill="#e03030" stroke="none" stroke-width="1"/>
<rect x="308" y="432.4" width="5.2" height="5.2" fill="#3a5eb0" stroke="none" stroke-width="1"/>
<rect x="337.5" y="476.6" width="5.2" height="5.2" fill="#3a5eb0" stroke="none" stroke-width="1"/>
<rect x="396.9" y="508.5" width="5.2" height="5.2" fill="#3a5eb0" stroke="none" stroke-width="1"/>
<rect x="455.9" y="528.9" width="5.2" height="5.2" fill="#3a5eb0" stroke="none" stroke-width="1"/>
<text x="360.5" y="397.3" font-size="12.5" font-weight="bold" fill="#231f20">MoS<tspan font-size="9.5" dy="2.5">2</tspan><tspan dy="-2.5">/Metal</tspan></text>
<text x="358.8" y="486.8" font-size="12.5" font-weight="bold" fill="#231f20">MoS<tspan font-size="9.5" dy="2.5">2</tspan><tspan dy="-2.5">/GR</tspan></text>
<text x="492.8" y="370.6" font-size="13" text-anchor="start" fill="#231f20" font-weight="bold">(i)</text>
<rect x="528" y="363.1" width="167.7" height="167.7" fill="none" stroke="#666" stroke-width="1.3"/>
<line x1="528" y1="403.9" x2="532" y2="403.9" stroke="#555" stroke-width="1.2"/>
<line x1="528" y1="456.7" x2="532" y2="456.7" stroke="#555" stroke-width="1.2"/>
<line x1="528" y1="509.5" x2="532" y2="509.5" stroke="#555" stroke-width="1.2"/>
<line x1="546.3" y1="530.8" x2="546.3" y2="526.8" stroke="#555" stroke-width="1.2"/>
<line x1="583.66" y1="530.8" x2="583.66" y2="526.8" stroke="#555" stroke-width="1.2"/>
<line x1="621.02" y1="530.8" x2="621.02" y2="526.8" stroke="#555" stroke-width="1.2"/>
<line x1="658.38" y1="530.8" x2="658.38" y2="526.8" stroke="#555" stroke-width="1.2"/>
<text x="525.6" y="410.5" font-size="13.2" text-anchor="end" fill="#231f20">10<tspan font-size="9.2" dy="-4.6">−3</tspan></text>
<text x="525.6" y="463.3" font-size="13.2" text-anchor="end" fill="#231f20">10<tspan font-size="9.2" dy="-4.6">−4</tspan></text>
<text x="525.6" y="516.1" font-size="13.2" text-anchor="end" fill="#231f20">10<tspan font-size="9.2" dy="-4.6">−5</tspan></text>
<text x="546.3" y="544.1" font-size="13" text-anchor="middle" fill="#231f20">0</text>
<text x="583.66" y="544.1" font-size="13" text-anchor="middle" fill="#231f20">20</text>
<text x="621.02" y="544.1" font-size="13" text-anchor="middle" fill="#231f20">40</text>
<text x="658.38" y="544.1" font-size="13" text-anchor="middle" fill="#231f20">60</text>
<text x="695.74" y="544.1" font-size="13" text-anchor="middle" fill="#231f20">80</text>
<text x="613.3" y="559.4" font-size="13" text-anchor="middle" fill="#231f20">V<tspan font-size="9.5" dy="2.5">g</tspan><tspan dy="-2.5"> (V)</tspan></text>
<text x="497" y="444" font-size="13" text-anchor="middle" fill="#231f20" transform="rotate(-90 497 444)">A. (L X W) (µm<tspan font-size="9" dy="-4.5">2</tspan><tspan dy="4.5">)</tspan></text>
<path d="M563.5 451.2 C565.95 453.87 572.63 462.08 578.2 467.2 C583.77 472.32 590.22 477.67 596.9 481.9 C603.58 486.13 611.17 489.7 618.3 492.6 C625.43 495.5 632.58 496.98 639.7 499.3 C646.82 501.62 653.72 504.27 661 506.5 C668.28 508.73 679.67 511.67 683.4 512.7" stroke="#6a6ab0" stroke-width="0.9" fill="none" stroke-linejoin="round"/>
<path d="M552 484.6 C555.03 486.6 562.72 492.45 570.2 496.6 C577.68 500.75 588.88 506.15 596.9 509.5 C604.92 512.85 611.17 514.62 618.3 516.7 C625.43 518.78 633.25 520.4 639.7 522 C646.15 523.6 651.27 524.97 657 526.3 C662.73 527.63 671.25 529.38 674.1 530" stroke="#6a6ab0" stroke-width="0.9" fill="none" stroke-linejoin="round"/>
<rect x="544.4" y="448.8" width="3.8" height="3.8" fill="none" stroke="#222" stroke-width="0.9"/>
<rect x="553.74" y="457.3" width="3.8" height="3.8" fill="none" stroke="#222" stroke-width="0.9"/>
<rect x="563.08" y="463.2" width="3.8" height="3.8" fill="none" stroke="#222" stroke-width="0.9"/>
<rect x="572.42" y="472" width="3.8" height="3.8" fill="none" stroke="#222" stroke-width="0.9"/>
<rect x="581.76" y="475.2" width="3.8" height="3.8" fill="none" stroke="#222" stroke-width="0.9"/>
<rect x="591.1" y="494.7" width="3.8" height="3.8" fill="none" stroke="#222" stroke-width="0.9"/>
<rect x="600.44" y="499.5" width="3.8" height="3.8" fill="none" stroke="#222" stroke-width="0.9"/>
<rect x="609.78" y="493.9" width="3.8" height="3.8" fill="none" stroke="#222" stroke-width="0.9"/>
<rect x="619.12" y="494.7" width="3.8" height="3.8" fill="none" stroke="#222" stroke-width="0.9"/>
<rect x="628.46" y="499.5" width="3.8" height="3.8" fill="none" stroke="#222" stroke-width="0.9"/>
<rect x="647.14" y="507.3" width="3.8" height="3.8" fill="none" stroke="#222" stroke-width="0.9"/>
<rect x="656.48" y="505.4" width="3.8" height="3.8" fill="none" stroke="#222" stroke-width="0.9"/>
<circle cx="546.3" cy="476.6" r="1.9" fill="none" stroke="#e03030" stroke-width="0.9"/>
<circle cx="555.64" cy="478" r="1.9" fill="none" stroke="#e03030" stroke-width="0.9"/>
<circle cx="564.98" cy="484.6" r="1.9" fill="none" stroke="#e03030" stroke-width="0.9"/>
<circle cx="574.32" cy="484.6" r="1.9" fill="none" stroke="#e03030" stroke-width="0.9"/>
<circle cx="583.66" cy="494" r="1.9" fill="none" stroke="#e03030" stroke-width="0.9"/>
<circle cx="593" cy="499.3" r="1.9" fill="none" stroke="#e03030" stroke-width="0.9"/>
<circle cx="602.34" cy="502" r="1.9" fill="none" stroke="#e03030" stroke-width="0.9"/>
<circle cx="611.68" cy="505" r="1.9" fill="none" stroke="#e03030" stroke-width="0.9"/>
<circle cx="621.02" cy="507" r="1.9" fill="none" stroke="#e03030" stroke-width="0.9"/>
<circle cx="630.36" cy="510" r="1.9" fill="none" stroke="#e03030" stroke-width="0.9"/>
<circle cx="639.7" cy="513" r="1.9" fill="none" stroke="#e03030" stroke-width="0.9"/>
<circle cx="649.04" cy="515" r="1.9" fill="none" stroke="#e03030" stroke-width="0.9"/>
<circle cx="658.38" cy="516.7" r="1.9" fill="none" stroke="#e03030" stroke-width="0.9"/>
<circle cx="667.72" cy="518" r="1.9" fill="none" stroke="#e03030" stroke-width="0.9"/>
<circle cx="677.06" cy="518.5" r="1.9" fill="none" stroke="#e03030" stroke-width="0.9"/>
<path d="M544.1 446.8 L546.3 443 L548.5 446.8 Z" fill="none" stroke="#3a3aa8" stroke-width="0.9"/>
<path d="M553.44 459.7 L555.64 455.9 L557.84 459.7 Z" fill="none" stroke="#3a3aa8" stroke-width="0.9"/>
<path d="M562.78 473.5 L564.98 469.7 L567.18 473.5 Z" fill="none" stroke="#3a3aa8" stroke-width="0.9"/>
<path d="M572.12 482.8 L574.32 479 L576.52 482.8 Z" fill="none" stroke="#3a3aa8" stroke-width="0.9"/>
<path d="M581.46 494.3 L583.66 490.5 L585.86 494.3 Z" fill="none" stroke="#3a3aa8" stroke-width="0.9"/>
<path d="M590.8 498.9 L593 495.1 L595.2 498.9 Z" fill="none" stroke="#3a3aa8" stroke-width="0.9"/>
<path d="M600.14 503.1 L602.34 499.3 L604.54 503.1 Z" fill="none" stroke="#3a3aa8" stroke-width="0.9"/>
<path d="M609.48 504.7 L611.68 500.9 L613.88 504.7 Z" fill="none" stroke="#3a3aa8" stroke-width="0.9"/>
<path d="M618.82 507.2 L621.02 503.4 L623.22 507.2 Z" fill="none" stroke="#3a3aa8" stroke-width="0.9"/>
<path d="M628.16 508.7 L630.36 504.9 L632.56 508.7 Z" fill="none" stroke="#3a3aa8" stroke-width="0.9"/>
<path d="M637.5 510.2 L639.7 506.4 L641.9 510.2 Z" fill="none" stroke="#3a3aa8" stroke-width="0.9"/>
<path d="M646.84 511.2 L649.04 507.4 L651.24 511.2 Z" fill="none" stroke="#3a3aa8" stroke-width="0.9"/>
<path d="M656.18 513 L658.38 509.2 L660.58 513 Z" fill="none" stroke="#3a3aa8" stroke-width="0.9"/>
<path d="M665.52 514.4 L667.72 510.6 L669.92 514.4 Z" fill="none" stroke="#3a3aa8" stroke-width="0.9"/>
<path d="M674.86 517 L677.06 513.2 L679.26 517 Z" fill="none" stroke="#3a3aa8" stroke-width="0.9"/>
<path d="M544.1 425.5 L546.3 429.3 L548.5 425.5 Z" fill="none" stroke="#80c8d0" stroke-width="0.9"/>
<path d="M553.44 448.3 L555.64 452.1 L557.84 448.3 Z" fill="none" stroke="#80c8d0" stroke-width="0.9"/>
<path d="M562.78 460.7 L564.98 464.5 L567.18 460.7 Z" fill="none" stroke="#80c8d0" stroke-width="0.9"/>
<path d="M572.12 465.5 L574.32 469.3 L576.52 465.5 Z" fill="none" stroke="#80c8d0" stroke-width="0.9"/>
<path d="M581.46 477.6 L583.66 481.4 L585.86 477.6 Z" fill="none" stroke="#80c8d0" stroke-width="0.9"/>
<path d="M590.8 488.3 L593 492.1 L595.2 488.3 Z" fill="none" stroke="#80c8d0" stroke-width="0.9"/>
<path d="M600.14 495.5 L602.34 499.3 L604.54 495.5 Z" fill="none" stroke="#80c8d0" stroke-width="0.9"/>
<path d="M609.48 499.3 L611.68 503.1 L613.88 499.3 Z" fill="none" stroke="#80c8d0" stroke-width="0.9"/>
<path d="M618.82 502.3 L621.02 506.1 L623.22 502.3 Z" fill="none" stroke="#80c8d0" stroke-width="0.9"/>
<path d="M628.16 505.3 L630.36 509.1 L632.56 505.3 Z" fill="none" stroke="#80c8d0" stroke-width="0.9"/>
<path d="M637.5 508.3 L639.7 512.1 L641.9 508.3 Z" fill="none" stroke="#80c8d0" stroke-width="0.9"/>
<path d="M646.84 510.3 L649.04 514.1 L651.24 510.3 Z" fill="none" stroke="#80c8d0" stroke-width="0.9"/>
<path d="M656.18 513.3 L658.38 517.1 L660.58 513.3 Z" fill="none" stroke="#80c8d0" stroke-width="0.9"/>
<path d="M665.52 515.3 L667.72 519.1 L669.92 515.3 Z" fill="none" stroke="#80c8d0" stroke-width="0.9"/>
<path d="M674.86 518.3 L677.06 522.1 L679.26 518.3 Z" fill="none" stroke="#80c8d0" stroke-width="0.9"/>
<path d="M546.3 469.4 L548.7 471.8 L546.3 474.2 L543.9 471.8 Z" fill="none" stroke="#e05050" stroke-width="0.9"/>
<path d="M555.64 476.9 L558.04 479.3 L555.64 481.7 L553.24 479.3 Z" fill="none" stroke="#e05050" stroke-width="0.9"/>
<path d="M564.98 480.9 L567.38 483.3 L564.98 485.7 L562.58 483.3 Z" fill="none" stroke="#e05050" stroke-width="0.9"/>
<path d="M574.32 487.6 L576.72 490 L574.32 492.4 L571.92 490 Z" fill="none" stroke="#e05050" stroke-width="0.9"/>
<path d="M583.66 492.1 L586.06 494.5 L583.66 496.9 L581.26 494.5 Z" fill="none" stroke="#e05050" stroke-width="0.9"/>
<path d="M593 496.9 L595.4 499.3 L593 501.7 L590.6 499.3 Z" fill="none" stroke="#e05050" stroke-width="0.9"/>
<path d="M602.34 500.6 L604.74 503 L602.34 505.4 L599.94 503 Z" fill="none" stroke="#e05050" stroke-width="0.9"/>
<path d="M611.68 503.6 L614.08 506 L611.68 508.4 L609.28 506 Z" fill="none" stroke="#e05050" stroke-width="0.9"/>
<path d="M621.02 506.6 L623.42 509 L621.02 511.4 L618.62 509 Z" fill="none" stroke="#e05050" stroke-width="0.9"/>
<path d="M630.36 509.6 L632.76 512 L630.36 514.4 L627.96 512 Z" fill="none" stroke="#e05050" stroke-width="0.9"/>
<path d="M639.7 512.6 L642.1 515 L639.7 517.4 L637.3 515 Z" fill="none" stroke="#e05050" stroke-width="0.9"/>
<path d="M649.04 515.6 L651.44 518 L649.04 520.4 L646.64 518 Z" fill="none" stroke="#e05050" stroke-width="0.9"/>
<path d="M658.38 517.6 L660.78 520 L658.38 522.4 L655.98 520 Z" fill="none" stroke="#e05050" stroke-width="0.9"/>
<path d="M667.72 519.6 L670.12 522 L667.72 524.4 L665.32 522 Z" fill="none" stroke="#e05050" stroke-width="0.9"/>
<path d="M677.06 522.3 L679.46 524.7 L677.06 527.1 L674.66 524.7 Z" fill="none" stroke="#e05050" stroke-width="0.9"/>
<path d="M548.1 432.4 L544.2 434.6 L548.1 436.8 Z" fill="none" stroke="#8a8a4a" stroke-width="0.9"/>
<path d="M557.44 459.7 L553.54 461.9 L557.44 464.1 Z" fill="none" stroke="#8a8a4a" stroke-width="0.9"/>
<path d="M566.78 469 L562.88 471.2 L566.78 473.4 Z" fill="none" stroke="#8a8a4a" stroke-width="0.9"/>
<path d="M576.12 475.8 L572.22 478 L576.12 480.2 Z" fill="none" stroke="#8a8a4a" stroke-width="0.9"/>
<path d="M585.46 487.8 L581.56 490 L585.46 492.2 Z" fill="none" stroke="#8a8a4a" stroke-width="0.9"/>
<path d="M594.8 497.1 L590.9 499.3 L594.8 501.5 Z" fill="none" stroke="#8a8a4a" stroke-width="0.9"/>
<path d="M604.14 505.9 L600.24 508.1 L604.14 510.3 Z" fill="none" stroke="#8a8a4a" stroke-width="0.9"/>
<path d="M613.48 507.8 L609.58 510 L613.48 512.2 Z" fill="none" stroke="#8a8a4a" stroke-width="0.9"/>
<path d="M622.82 509.8 L618.92 512 L622.82 514.2 Z" fill="none" stroke="#8a8a4a" stroke-width="0.9"/>
<path d="M632.16 511.8 L628.26 514 L632.16 516.2 Z" fill="none" stroke="#8a8a4a" stroke-width="0.9"/>
<path d="M641.5 513.8 L637.6 516 L641.5 518.2 Z" fill="none" stroke="#8a8a4a" stroke-width="0.9"/>
<path d="M650.84 515.8 L646.94 518 L650.84 520.2 Z" fill="none" stroke="#8a8a4a" stroke-width="0.9"/>
<path d="M660.18 517.8 L656.28 520 L660.18 522.2 Z" fill="none" stroke="#8a8a4a" stroke-width="0.9"/>
<path d="M669.52 518.8 L665.62 521 L669.52 523.2 Z" fill="none" stroke="#8a8a4a" stroke-width="0.9"/>
<path d="M678.86 519.8 L674.96 522 L678.86 524.2 Z" fill="none" stroke="#8a8a4a" stroke-width="0.9"/>
<circle cx="546.3" cy="399.9" r="2.1" fill="#111" stroke="none" stroke-width="1"/>
<circle cx="555.64" cy="412.5" r="2.1" fill="#111" stroke="none" stroke-width="1"/>
<circle cx="564.98" cy="417" r="2.1" fill="#111" stroke="none" stroke-width="1"/>
<circle cx="574.32" cy="403.6" r="2.1" fill="#111" stroke="none" stroke-width="1"/>
<circle cx="583.66" cy="414.3" r="2.1" fill="#111" stroke="none" stroke-width="1"/>
<circle cx="593" cy="407.1" r="2.1" fill="#111" stroke="none" stroke-width="1"/>
<circle cx="602.34" cy="403.6" r="2.1" fill="#111" stroke="none" stroke-width="1"/>
<circle cx="611.68" cy="403.6" r="2.1" fill="#111" stroke="none" stroke-width="1"/>
<circle cx="621.02" cy="401.5" r="2.1" fill="#111" stroke="none" stroke-width="1"/>
<circle cx="630.36" cy="405.8" r="2.1" fill="#111" stroke="none" stroke-width="1"/>
<circle cx="639.7" cy="403.6" r="2.1" fill="#111" stroke="none" stroke-width="1"/>
<circle cx="649.04" cy="389.7" r="2.1" fill="#111" stroke="none" stroke-width="1"/>
<circle cx="658.38" cy="399.9" r="2.1" fill="#111" stroke="none" stroke-width="1"/>
<circle cx="677.06" cy="404.7" r="2.1" fill="#111" stroke="none" stroke-width="1"/>
<path d="M544 423.3 L546.3 419.2 L548.6 423.3 Z" fill="#e82020"/>
<path d="M553.34 427.1 L555.64 423 L557.94 427.1 Z" fill="#e82020"/>
<path d="M562.68 432.3 L564.98 428.2 L567.28 432.3 Z" fill="#e82020"/>
<path d="M572.02 437 L574.32 432.9 L576.62 437 Z" fill="#e82020"/>
<path d="M581.36 432.2 L583.66 428.1 L585.96 432.2 Z" fill="#e82020"/>
<path d="M590.7 444.5 L593 440.4 L595.3 444.5 Z" fill="#e82020"/>
<path d="M600.04 439.6 L602.34 435.5 L604.64 439.6 Z" fill="#e82020"/>
<path d="M609.38 438.3 L611.68 434.2 L613.98 438.3 Z" fill="#e82020"/>
<path d="M618.72 448.5 L621.02 444.4 L623.32 448.5 Z" fill="#e82020"/>
<path d="M628.06 447.1 L630.36 443 L632.66 447.1 Z" fill="#e82020"/>
<path d="M646.74 437.5 L649.04 433.4 L651.34 437.5 Z" fill="#e82020"/>
<path d="M656.08 433 L658.38 428.9 L660.68 433 Z" fill="#e82020"/>
<path d="M665.42 434.3 L667.72 430.2 L670.02 434.3 Z" fill="#e82020"/>
<path d="M674.76 433.8 L677.06 429.7 L679.36 433.8 Z" fill="#e82020"/>
<path d="M546.3 406.8 L549.1 409.6 L546.3 412.4 L543.5 409.6 Z" fill="#2a2a9a"/>
<path d="M555.64 415.6 L558.44 418.4 L555.64 421.2 L552.84 418.4 Z" fill="#2a2a9a"/>
<path d="M564.98 429.7 L567.78 432.5 L564.98 435.3 L562.18 432.5 Z" fill="#2a2a9a"/>
<path d="M574.32 437.2 L577.12 440 L574.32 442.8 L571.52 440 Z" fill="#2a2a9a"/>
<path d="M583.66 433.6 L586.46 436.4 L583.66 439.2 L580.86 436.4 Z" fill="#2a2a9a"/>
<path d="M593 439.2 L595.8 442 L593 444.8 L590.2 442 Z" fill="#2a2a9a"/>
<path d="M602.34 441.7 L605.14 444.5 L602.34 447.3 L599.54 444.5 Z" fill="#2a2a9a"/>
<path d="M611.68 445.7 L614.48 448.5 L611.68 451.3 L608.88 448.5 Z" fill="#2a2a9a"/>
<path d="M621.02 450.2 L623.82 453 L621.02 455.8 L618.22 453 Z" fill="#2a2a9a"/>
<path d="M639.7 439.7 L642.5 442.5 L639.7 445.3 L636.9 442.5 Z" fill="#2a2a9a"/>
<path d="M649.04 442.8 L651.84 445.6 L649.04 448.4 L646.24 445.6 Z" fill="#2a2a9a"/>
<path d="M658.38 441.2 L661.18 444 L658.38 446.8 L655.58 444 Z" fill="#2a2a9a"/>
<path d="M667.72 437.2 L670.52 440 L667.72 442.8 L664.92 440 Z" fill="#2a2a9a"/>
<path d="M677.06 444.6 L679.86 447.4 L677.06 450.2 L674.26 447.4 Z" fill="#2a2a9a"/>
<path d="M548.3 419.9 L543.9 422.5 L548.3 425.1 Z" fill="#88d0d0"/>
<path d="M557.64 446.8 L553.24 449.4 L557.64 452 Z" fill="#88d0d0"/>
<path d="M566.98 462.4 L562.58 465 L566.98 467.6 Z" fill="#88d0d0"/>
<path d="M585.66 473.6 L581.26 476.2 L585.66 478.8 Z" fill="#88d0d0"/>
<path d="M595 483.4 L590.6 486 L595 488.6 Z" fill="#88d0d0"/>
<path d="M604.34 478.1 L599.94 480.7 L604.34 483.3 Z" fill="#88d0d0"/>
<path d="M623.02 452 L618.62 454.6 L623.02 457.2 Z" fill="#88d0d0"/>
<path d="M632.36 450.8 L627.96 453.4 L632.36 456 Z" fill="#88d0d0"/>
<path d="M641.7 457.9 L637.3 460.5 L641.7 463.1 Z" fill="#88d0d0"/>
<path d="M651.04 465.7 L646.64 468.3 L651.04 470.9 Z" fill="#88d0d0"/>
<path d="M660.38 475.1 L655.98 477.7 L660.38 480.3 Z" fill="#88d0d0"/>
<path d="M669.72 481.4 L665.32 484 L669.72 486.6 Z" fill="#88d0d0"/>
<path d="M679.06 481.9 L674.66 484.5 L679.06 487.1 Z" fill="#88d0d0"/>
<text x="699" y="371.6" font-size="11" font-weight="bold" fill="#231f20">MoS<tspan font-size="8.5" dy="2.5">2</tspan><tspan dy="-2.5">-Graphene</tspan></text>
<rect x="709.79" y="383.29" width="3.42" height="3.42" fill="none" stroke="#222" stroke-width="0.9"/>
<text x="716.8" y="389" font-size="11" text-anchor="start" fill="#231f20" font-weight="bold">Device 1</text>
<circle cx="711.5" cy="396.38" r="1.71" fill="none" stroke="#e03030" stroke-width="0.9"/>
<text x="716.8" y="400.38" font-size="11" text-anchor="start" fill="#231f20" font-weight="bold">Device 2</text>
<path d="M709.52 409.29 L711.5 405.87 L713.48 409.29 Z" fill="none" stroke="#3a3aa8" stroke-width="0.9"/>
<text x="716.8" y="411.76" font-size="11" text-anchor="start" fill="#231f20" font-weight="bold">Device 3</text>
<path d="M709.52 417.61 L711.5 421.03 L713.48 417.61 Z" fill="none" stroke="#80c8d0" stroke-width="0.9"/>
<text x="716.8" y="423.14" font-size="11" text-anchor="start" fill="#231f20" font-weight="bold">Device 4</text>
<path d="M711.5 428.36 L713.66 430.52 L711.5 432.68 L709.34 430.52 Z" fill="none" stroke="#e05050" stroke-width="0.9"/>
<text x="716.8" y="434.52" font-size="11" text-anchor="start" fill="#231f20" font-weight="bold">Device 5</text>
<path d="M713.12 439.92 L709.61 441.9 L713.12 443.88 Z" fill="none" stroke="#8a8a4a" stroke-width="0.9"/>
<text x="716.8" y="445.9" font-size="11" text-anchor="start" fill="#231f20" font-weight="bold">Device 6</text>
<text x="701.6" y="465.5" font-size="11" font-weight="bold" fill="#231f20">MoS<tspan font-size="8.5" dy="2.5">2</tspan><tspan dy="-2.5">-Metal</tspan></text>
<circle cx="711.5" cy="477.4" r="1.68" fill="#111" stroke="none" stroke-width="1"/>
<text x="716.8" y="481.4" font-size="11" text-anchor="start" fill="#231f20" font-weight="bold">Device 1</text>
<path d="M709.66 490.14 L711.5 486.86 L713.34 490.14 Z" fill="#e82020"/>
<text x="716.8" y="492.7" font-size="11" text-anchor="start" fill="#231f20" font-weight="bold">Device 2</text>
<path d="M711.5 497.76 L713.74 500 L711.5 502.24 L709.26 500 Z" fill="#2a2a9a"/>
<text x="716.8" y="504" font-size="11" text-anchor="start" fill="#231f20" font-weight="bold">Device 3</text>
<path d="M713.1 509.22 L709.58 511.3 L713.1 513.38 Z" fill="#88d0d0"/>
<text x="716.8" y="515.3" font-size="11" text-anchor="start" fill="#231f20" font-weight="bold">Device 4</text>
<text x="30.5" y="584.5" font-size="13" text-anchor="start" fill="#231f20" font-weight="bold">(j)</text>
<defs><clipPath id="jclip"><rect x="45.4" y="575.4" width="178.4" height="168"/></clipPath><filter id="jblur" x="-20%" y="-20%" width="140%" height="140%"><feGaussianBlur stdDeviation="1.3"/></filter><filter id="jblur2" x="-10%" y="-10%" width="120%" height="120%"><feGaussianBlur stdDeviation="0.6"/></filter><filter id="jblur3" x="-10%" y="-10%" width="120%" height="120%"><feGaussianBlur stdDeviation="2.2"/></filter></defs>
<g clip-path="url(#jclip)">
<rect x="45.4" y="575.4" width="178.4" height="168" fill="#5c3e3b" stroke="none" stroke-width="1"/>
<g filter="url(#jblur)">
<path d="M84.6 675.3 L54.9 700 L46 743.4 L109.4 743.4 Z" fill="#4a393b"/>
<path d="M104 641 L150 618 L198.5 743.4 L141 743.4 Z" fill="#483838"/>
</g>
<g filter="url(#jblur2)">
<path d="M38 631.5 L61.7 643.4 L146.5 597 L150.5 613 L61.7 660.4 L38 648.5 Z" fill="#f39c5c" stroke="#d45a38" stroke-width="0.9"/>
<path d="M100.7 623.3 L145.3 600.5 L149 615.8 L104.9 641.8 Z" fill="#f6ac6a"/>
<path d="M109.4 690 L195.2 640.9 L232 654 L232 669.5 L195.2 656.4 L115.2 702 Z" fill="#f39c5c" stroke="#d45a38" stroke-width="0.9"/>
</g>
<g filter="url(#jblur3)" opacity="0.8">
<path d="M38 639.5 L61.7 651.5 L100 630.5 L101 634 L61.7 655.5 L38 644 Z" fill="#fac284"/>
<path d="M112 694 L195.2 647 L232 660 L232 663 L195.2 651 L113 697.5 Z" fill="#fac284"/>
</g>
<path d="M160.5 579.5 L166.5 577 L170.5 588 L165.5 591.5 Z" fill="#4d7a4c" opacity="0.9"/>
<circle cx="209.7" cy="608.4" r="1.8" fill="#6a9a60" stroke="none" stroke-width="1"/>
<rect x="174.5" y="734" width="4" height="4" fill="#e8a070" stroke="none" stroke-width="1"/>
<rect x="178.5" y="738" width="5" height="5" fill="#e8a070" stroke="none" stroke-width="1"/>
</g>
<path d="M99 624 L141.1 743.4" stroke="#eee25a" stroke-width="1.3" fill="none" stroke-dasharray="4.2 2.6"/>
<path d="M149 615.8 L198.5 743.4" stroke="#eee25a" stroke-width="1.3" fill="none" stroke-dasharray="4.2 2.6"/>
<path d="M99 624 L144 601.5 L149 615.8" stroke="#eee25a" stroke-width="1.3" fill="none" stroke-dasharray="4.2 2.6"/>
<path d="M104.9 643 L150 620.8" stroke="#eee25a" stroke-width="1.3" fill="none" stroke-dasharray="4.2 2.6"/>
<text x="121" y="624.3" font-size="12.3" text-anchor="middle" fill="#fff" font-weight="bold" transform="rotate(-27 121 624.3)">NbS<tspan font-size="8.5" dy="2">2</tspan></text>
<text x="135.8" y="657.5" font-size="12.8" text-anchor="middle" fill="#fff" font-weight="bold" transform="rotate(-12 135.8 657.5)">WS<tspan font-size="9" dy="2">2</tspan></text>
<text x="196.3" y="655.2" font-size="12.3" text-anchor="middle" fill="#fff" font-weight="bold">Cr/Au</text>
<line x1="52.7" y1="734.2" x2="98.2" y2="734.2" stroke="#fff" stroke-width="3"/>
<text x="242.8" y="585.6" font-size="13" text-anchor="start" fill="#231f20" font-weight="bold">(k)</text>
<rect x="292.8" y="577.4" width="179.6" height="158.3" fill="none" stroke="#666" stroke-width="1.3"/>
<line x1="292.8" y1="593.8" x2="296.8" y2="593.8" stroke="#555" stroke-width="1.2"/>
<line x1="292.8" y1="620.3" x2="296.8" y2="620.3" stroke="#555" stroke-width="1.2"/>
<line x1="292.8" y1="646.8" x2="296.8" y2="646.8" stroke="#555" stroke-width="1.2"/>
<line x1="292.8" y1="673.3" x2="296.8" y2="673.3" stroke="#555" stroke-width="1.2"/>
<line x1="292.8" y1="699.8" x2="296.8" y2="699.8" stroke="#555" stroke-width="1.2"/>
<line x1="292.8" y1="726.3" x2="296.8" y2="726.3" stroke="#555" stroke-width="1.2"/>
<line x1="307.8" y1="735.7" x2="307.8" y2="731.7" stroke="#555" stroke-width="1.2"/>
<line x1="337.9" y1="735.7" x2="337.9" y2="731.7" stroke="#555" stroke-width="1.2"/>
<line x1="368" y1="735.7" x2="368" y2="731.7" stroke="#555" stroke-width="1.2"/>
<line x1="398.1" y1="735.7" x2="398.1" y2="731.7" stroke="#555" stroke-width="1.2"/>
<line x1="428.2" y1="735.7" x2="428.2" y2="731.7" stroke="#555" stroke-width="1.2"/>
<line x1="458.3" y1="735.7" x2="458.3" y2="731.7" stroke="#555" stroke-width="1.2"/>
<text x="290.6" y="601" font-size="13" text-anchor="end" fill="#231f20">10<tspan font-size="9.2" dy="-4.6">−7</tspan></text>
<text x="290.6" y="627.5" font-size="13" text-anchor="end" fill="#231f20">10<tspan font-size="9.2" dy="-4.6">−8</tspan></text>
<text x="290.6" y="654" font-size="13" text-anchor="end" fill="#231f20">10<tspan font-size="9.2" dy="-4.6">−9</tspan></text>
<text x="290.6" y="680.5" font-size="13" text-anchor="end" fill="#231f20">10<tspan font-size="9.2" dy="-4.6">−10</tspan></text>
<text x="290.6" y="707" font-size="13" text-anchor="end" fill="#231f20">10<tspan font-size="9.2" dy="-4.6">−11</tspan></text>
<text x="290.6" y="733.5" font-size="13" text-anchor="end" fill="#231f20">10<tspan font-size="9.2" dy="-4.6">−12</tspan></text>
<text x="304" y="750.1" font-size="13" text-anchor="middle" fill="#231f20">−20</text>
<text x="337.9" y="750.1" font-size="13" text-anchor="middle" fill="#231f20">0</text>
<text x="368" y="750.1" font-size="13" text-anchor="middle" fill="#231f20">20</text>
<text x="398.1" y="750.1" font-size="13" text-anchor="middle" fill="#231f20">40</text>
<text x="428.2" y="750.1" font-size="13" text-anchor="middle" fill="#231f20">60</text>
<text x="458.3" y="750.1" font-size="13" text-anchor="middle" fill="#231f20">80</text>
<text x="383" y="761.9" font-size="13" text-anchor="middle" fill="#231f20">Gate voltage (V)</text>
<text x="255.5" y="656.9" font-size="13" text-anchor="middle" fill="#231f20" transform="rotate(-90 255.5 656.9)">Drain current (A)</text>
<path d="M307.5 707.9 L318.2 709.7 L331 711.7 L341.1 714 L350 714.3 L355 714.8 L358 713.6 L361 714.9 L364 713.6 L367 715 L370 713.6 L373 714.9 L380 715 L387 712.4 L392.3 707.1 L397.6 697.4 L402.9 686.8 L405.5 678.9 L411.7 667.5 L418.7 652.5 L427.5 638.4 L434.6 627.9 L441.6 614.6 L448.7 606.7 L457.5 598.5" stroke="#e0302c" stroke-width="1.2" fill="none" stroke-linejoin="round"/>
<path d="M307.5 712.2 L331 714.8 L350 716.2 L356 716.9 L359 717.9 L362 717 L365 717.8 L369.2 717.4 L375 717.8 L380 718.2 L390.6 715.9 L397.6 708.8 L406.4 692.1 L411.7 685.1 L420.5 671 L429.3 656.9 L438.1 642.8 L446.9 628.7 L457.5 616.1" stroke="#1a1a1a" stroke-width="1.2" fill="none" stroke-linejoin="round"/>
<line x1="309.6" y1="589.9" x2="325.3" y2="589.9" stroke="#222" stroke-width="1.2"/>
<line x1="309.6" y1="608" x2="325.3" y2="608" stroke="#e0302c" stroke-width="1.2"/>
<text x="328.4" y="594.6" font-size="13" fill="#231f20">V<tspan font-size="9.5" dy="2.5">ds</tspan><tspan dy="-2.5"> = 1 V</tspan></text>
<text x="328.4" y="612.7" font-size="13" fill="#231f20">V<tspan font-size="9.5" dy="2.5">ds</tspan><tspan dy="-2.5"> = 2 V</tspan></text>
<text x="487.7" y="585.6" font-size="13" text-anchor="start" fill="#231f20" font-weight="bold">(l)</text>
<rect x="529.1" y="578.9" width="171.3" height="153.6" fill="none" stroke="#666" stroke-width="1.3"/>
<line x1="529.1" y1="603.6" x2="533.1" y2="603.6" stroke="#555" stroke-width="1.2"/>
<line x1="529.1" y1="629.5" x2="533.1" y2="629.5" stroke="#555" stroke-width="1.2"/>
<line x1="529.1" y1="655.4" x2="533.1" y2="655.4" stroke="#555" stroke-width="1.2"/>
<line x1="529.1" y1="681.3" x2="533.1" y2="681.3" stroke="#555" stroke-width="1.2"/>
<line x1="529.1" y1="707.2" x2="533.1" y2="707.2" stroke="#555" stroke-width="1.2"/>
<line x1="541.5" y1="732.5" x2="541.5" y2="728.5" stroke="#555" stroke-width="1.2"/>
<line x1="566.7" y1="732.5" x2="566.7" y2="728.5" stroke="#555" stroke-width="1.2"/>
<line x1="591.9" y1="732.5" x2="591.9" y2="728.5" stroke="#555" stroke-width="1.2"/>
<line x1="617.1" y1="732.5" x2="617.1" y2="728.5" stroke="#555" stroke-width="1.2"/>
<line x1="642.3" y1="732.5" x2="642.3" y2="728.5" stroke="#555" stroke-width="1.2"/>
<line x1="667.5" y1="732.5" x2="667.5" y2="728.5" stroke="#555" stroke-width="1.2"/>
<line x1="692.7" y1="732.5" x2="692.7" y2="728.5" stroke="#555" stroke-width="1.2"/>
<text x="526.5" y="608.2" font-size="13" text-anchor="end" fill="#231f20">0</text>
<text x="526.5" y="634.1" font-size="13" text-anchor="end" fill="#231f20">−200</text>
<text x="526.5" y="660" font-size="13" text-anchor="end" fill="#231f20">−400</text>
<text x="526.5" y="685.9" font-size="13" text-anchor="end" fill="#231f20">−600</text>
<text x="526.5" y="711.8" font-size="13" text-anchor="end" fill="#231f20">−800</text>
<text x="526.5" y="737.7" font-size="13" text-anchor="end" fill="#231f20">−1000</text>
<text x="537.7" y="745.5" font-size="13" text-anchor="middle" fill="#231f20">−6</text>
<text x="562.9" y="745.5" font-size="13" text-anchor="middle" fill="#231f20">−4</text>
<text x="588.1" y="745.5" font-size="13" text-anchor="middle" fill="#231f20">−2</text>
<text x="617.1" y="745.5" font-size="13" text-anchor="middle" fill="#231f20">0</text>
<text x="642.3" y="745.5" font-size="13" text-anchor="middle" fill="#231f20">2</text>
<text x="667.5" y="745.5" font-size="13" text-anchor="middle" fill="#231f20">4</text>
<text x="692.7" y="745.5" font-size="13" text-anchor="middle" fill="#231f20">6</text>
<text x="617.2" y="757.7" font-size="13" text-anchor="middle" fill="#231f20">Drain voltage (V)</text>
<text x="491" y="655.8" font-size="13" text-anchor="middle" fill="#231f20" transform="rotate(-90 491 655.8)">Drain current (nA)</text>
<line x1="541.2" y1="603.6" x2="692.6" y2="603.6" stroke="#e8e880" stroke-width="1.2"/>
<line x1="541.2" y1="603.3" x2="692.6" y2="603.3" stroke="#3a9a70" stroke-width="1.3"/>
<path d="M541.3 613.4 C543.98 612.6 551.68 609.92 557.4 608.6 C563.12 607.28 569.52 606.27 575.6 605.5 C581.68 604.73 584.83 604.4 593.9 604 C602.97 603.6 613.55 603.35 630 603.1 C646.45 602.85 682.17 602.6 692.6 602.5" stroke="#222" stroke-width="1.3" fill="none" stroke-linejoin="round"/>
<path d="M541.3 716.8 C541.85 714.52 543.45 707.35 544.6 703.1 C545.75 698.85 546.68 695.85 548.2 691.3 C549.72 686.75 551.87 680.52 553.7 675.8 C555.53 671.08 557.37 667.12 559.2 663 C561.03 658.88 562.88 654.75 564.7 651.1 C566.52 647.45 567.98 644.43 570.1 641.1 C572.22 637.77 574.97 634.15 577.4 631.1 C579.83 628.05 581.95 625.55 584.7 622.8 C587.45 620.05 590.85 617.03 593.9 614.6 C596.95 612.17 599.97 609.87 603 608.2 C606.03 606.53 609.07 605.45 612.1 604.6 C615.13 603.75 618.22 603.65 621.2 603.1 C624.18 602.55 626.4 601.92 630 601.3 C633.6 600.68 636.97 600.18 642.8 599.4 C648.63 598.62 656.7 597.97 665 596.6 C673.3 595.23 688 592.1 692.6 591.2" stroke="#d83028" stroke-width="1.3" fill="none" stroke-linejoin="round"/>
<line x1="638.8" y1="632.3" x2="654.6" y2="632.3" stroke="#d83028" stroke-width="1.3"/>
<text x="657" y="636.9" font-size="13" text-anchor="start" fill="#231f20" font-weight="bold">80 V</text>
<line x1="638.8" y1="645.45" x2="654.6" y2="645.45" stroke="#333" stroke-width="1.3"/>
<text x="657" y="650.05" font-size="13" text-anchor="start" fill="#231f20" font-weight="bold">70 V</text>
<line x1="638.8" y1="658.6" x2="654.6" y2="658.6" stroke="#4a4aa0" stroke-width="1.3"/>
<text x="657" y="663.2" font-size="13" text-anchor="start" fill="#231f20" font-weight="bold">60 V</text>
<line x1="638.8" y1="671.75" x2="654.6" y2="671.75" stroke="#3a8a8a" stroke-width="1.3"/>
<text x="657" y="676.35" font-size="13" text-anchor="start" fill="#231f20" font-weight="bold">50 V</text>
<line x1="638.8" y1="684.9" x2="654.6" y2="684.9" stroke="#e0a0b0" stroke-width="1.3"/>
<text x="657" y="689.5" font-size="13" text-anchor="start" fill="#231f20" font-weight="bold">40 V</text>
<line x1="638.8" y1="698.05" x2="654.6" y2="698.05" stroke="#90d070" stroke-width="1.3"/>
<text x="657" y="702.65" font-size="13" text-anchor="start" fill="#231f20" font-weight="bold">30 V</text>
</svg></body></html>
